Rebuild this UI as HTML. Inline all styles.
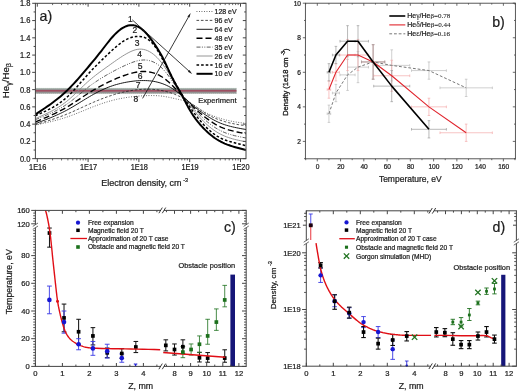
<!DOCTYPE html>
<html lang="en"><head><meta charset="utf-8"><title>Figure</title>
<style>html,body{margin:0;padding:0;background:#fff;}svg{display:block;}text{font-family:"Liberation Sans", Arial, sans-serif;stroke:#1c1c1c;stroke-width:0.22px;}</style>
</head><body>
<svg width="520" height="391" viewBox="0 0 520 391">
<rect width="520" height="391" fill="#fff"/>
<defs><filter id="soft" x="0" y="0" width="520" height="391" filterUnits="userSpaceOnUse"><feGaussianBlur stdDeviation="0.38"/></filter></defs>
<g filter="url(#soft)">
<g id="panel-a">
<rect x="35.4" y="88.4" width="201.1" height="5.0" fill="#949494"/>
<line x1="35.4" y1="88.4" x2="236.5" y2="88.4" stroke="#8fae9c" stroke-width="0.8" stroke-dasharray="1 1"/>
<line x1="35.4" y1="93.4" x2="236.5" y2="93.4" stroke="#7d8a82" stroke-width="0.8" stroke-dasharray="1 1"/>
<line x1="35.4" y1="90.9" x2="236.5" y2="90.9" stroke="#a23a52" stroke-width="1.1" />
<clipPath id="clipA"><rect x="35.4" y="3.3" width="210.6" height="155.35"/></clipPath>
<g clip-path="url(#clipA)">
<polyline points="35.4,125.06 37.33,124.64 39.26,124.23 41.2,123.81 43.13,123.39 45.06,122.96 46.99,122.52 48.92,122.08 50.86,121.62 52.79,121.15 54.72,120.66 56.65,120.15 58.59,119.62 60.52,119.07 62.45,118.5 64.38,117.9 66.31,117.27 68.25,116.62 70.18,115.93 72.11,115.21 74.04,114.47 75.97,113.71 77.91,112.94 79.84,112.16 81.77,111.36 83.7,110.57 85.63,109.77 87.57,108.98 89.5,108.2 91.43,107.44 93.36,106.68 95.3,105.94 97.23,105.22 99.16,104.52 101.09,103.84 103.02,103.18 104.96,102.55 106.89,101.95 108.82,101.38 110.75,100.84 112.68,100.33 114.62,99.85 116.55,99.39 118.48,98.97 120.41,98.58 122.34,98.21 124.28,97.87 126.21,97.56 128.14,97.27 130.07,97 132.01,96.76 133.94,96.54 135.87,96.34 137.8,96.17 139.73,96.02 141.67,95.89 143.6,95.78 145.53,95.69 147.46,95.62 149.39,95.57 151.33,95.55 153.26,95.56 155.19,95.61 157.12,95.7 159.06,95.83 160.99,96.01 162.92,96.25 164.85,96.54 166.78,96.89 168.72,97.27 170.65,97.69 172.58,98.12 174.51,98.55 176.44,98.98 178.38,99.39 180.31,99.81 182.24,100.25 184.17,100.77 186.1,101.38 188.04,102.13 189.97,103.03 191.9,104.07 193.83,105.2 195.77,106.41 197.7,107.65 199.63,108.9 201.56,110.13 203.49,111.29 205.43,112.37 207.36,113.37 209.29,114.29 211.22,115.15 213.15,115.94 215.09,116.67 217.02,117.36 218.95,117.99 220.88,118.59 222.81,119.15 224.75,119.68 226.68,120.16 228.61,120.62 230.54,121.03 232.48,121.42 234.41,121.77 236.34,122.09 238.27,122.38 240.2,122.66 242.14,122.91 244.07,123.16 246,123.4" fill="none" stroke="#333" stroke-width="0.8" stroke-dasharray="0.9 1.6" stroke-linejoin="round"/>
<polyline points="35.4,124.71 37.33,124.12 39.26,123.53 41.2,122.94 43.13,122.35 45.06,121.76 46.99,121.15 48.92,120.54 50.86,119.92 52.79,119.28 54.72,118.64 56.65,117.97 58.59,117.29 60.52,116.59 62.45,115.87 64.38,115.13 66.31,114.37 68.25,113.58 70.18,112.76 72.11,111.92 74.04,111.07 75.97,110.2 77.91,109.31 79.84,108.42 81.77,107.53 83.7,106.64 85.63,105.75 87.57,104.87 89.5,104 91.43,103.14 93.36,102.3 95.3,101.48 97.23,100.67 99.16,99.89 101.09,99.12 103.02,98.38 104.96,97.66 106.89,96.96 108.82,96.29 110.75,95.65 112.68,95.03 114.62,94.45 116.55,93.89 118.48,93.36 120.41,92.85 122.34,92.38 124.28,91.93 126.21,91.52 128.14,91.13 130.07,90.78 132.01,90.45 133.94,90.16 135.87,89.9 137.8,89.68 139.73,89.5 141.67,89.36 143.6,89.25 145.53,89.19 147.46,89.18 149.39,89.21 151.33,89.28 153.26,89.4 155.19,89.57 157.12,89.79 159.06,90.07 160.99,90.39 162.92,90.76 164.85,91.19 166.78,91.67 168.72,92.21 170.65,92.81 172.58,93.47 174.51,94.19 176.44,94.98 178.38,95.83 180.31,96.76 182.24,97.75 184.17,98.82 186.1,99.96 188.04,101.18 189.97,102.48 191.9,103.84 193.83,105.23 195.77,106.65 197.7,108.06 199.63,109.45 201.56,110.79 203.49,112.08 205.43,113.28 207.36,114.41 209.29,115.46 211.22,116.44 213.15,117.35 215.09,118.21 217.02,119 218.95,119.73 220.88,120.42 222.81,121.05 224.75,121.63 226.68,122.17 228.61,122.67 230.54,123.13 232.48,123.55 234.41,123.93 236.34,124.28 238.27,124.6 240.2,124.91 242.14,125.19 244.07,125.46 246,125.73" fill="none" stroke="#222" stroke-width="0.8" stroke-dasharray="2.6 1.8" stroke-linejoin="round"/>
<polyline points="35.4,123.64 37.33,122.91 39.26,122.18 41.2,121.44 43.13,120.7 45.06,119.95 46.99,119.19 48.92,118.41 50.86,117.63 52.79,116.82 54.72,115.99 56.65,115.14 58.59,114.26 60.52,113.36 62.45,112.42 64.38,111.45 66.31,110.45 68.25,109.4 70.18,108.32 72.11,107.2 74.04,106.05 75.97,104.89 77.91,103.7 79.84,102.51 81.77,101.32 83.7,100.13 85.63,98.95 87.57,97.78 89.5,96.64 91.43,95.52 93.36,94.43 95.3,93.38 97.23,92.35 99.16,91.37 101.09,90.42 103.02,89.51 104.96,88.65 106.89,87.83 108.82,87.06 110.75,86.35 112.68,85.68 114.62,85.06 116.55,84.49 118.48,83.96 120.41,83.47 122.34,83.02 124.28,82.61 126.21,82.24 128.14,81.9 130.07,81.6 132.01,81.32 133.94,81.09 135.87,80.89 137.8,80.74 139.73,80.63 141.67,80.56 143.6,80.55 145.53,80.58 147.46,80.67 149.39,80.82 151.33,81.02 153.26,81.3 155.19,81.65 157.12,82.07 159.06,82.57 160.99,83.16 162.92,83.83 164.85,84.6 166.78,85.46 168.72,86.42 170.65,87.49 172.58,88.66 174.51,89.94 176.44,91.34 178.38,92.86 180.31,94.48 182.24,96.16 184.17,97.89 186.1,99.63 188.04,101.36 189.97,103.04 191.9,104.68 193.83,106.27 195.77,107.82 197.7,109.32 199.63,110.77 201.56,112.19 203.49,113.55 205.43,114.88 207.36,116.15 209.29,117.37 211.22,118.53 213.15,119.63 215.09,120.67 217.02,121.63 218.95,122.51 220.88,123.32 222.81,124.05 224.75,124.72 226.68,125.33 228.61,125.89 230.54,126.4 232.48,126.87 234.41,127.3 236.34,127.71 238.27,128.1 240.2,128.47 242.14,128.83 244.07,129.17 246,129.52" fill="none" stroke="#000" stroke-width="0.9" stroke-linejoin="round"/>
<polyline points="35.4,122 37.33,121.18 39.26,120.37 41.2,119.55 43.13,118.72 45.06,117.89 46.99,117.05 48.92,116.19 50.86,115.32 52.79,114.43 54.72,113.51 56.65,112.57 58.59,111.61 60.52,110.61 62.45,109.59 64.38,108.52 66.31,107.42 68.25,106.28 70.18,105.1 72.11,103.88 74.04,102.64 75.97,101.37 77.91,100.09 79.84,98.81 81.77,97.52 83.7,96.25 85.63,94.98 87.57,93.74 89.5,92.53 91.43,91.35 93.36,90.2 95.3,89.08 97.23,87.99 99.16,86.92 101.09,85.88 103.02,84.87 104.96,83.88 106.89,82.92 108.82,81.98 110.75,81.07 112.68,80.17 114.62,79.31 116.55,78.48 118.48,77.67 120.41,76.9 122.34,76.17 124.28,75.47 126.21,74.81 128.14,74.2 130.07,73.63 132.01,73.11 133.94,72.65 135.87,72.26 137.8,71.94 139.73,71.7 141.67,71.54 143.6,71.49 145.53,71.53 147.46,71.68 149.39,71.95 151.33,72.34 153.26,72.85 155.19,73.49 157.12,74.27 159.06,75.2 160.99,76.27 162.92,77.5 164.85,78.88 166.78,80.42 168.72,82.09 170.65,83.86 172.58,85.72 174.51,87.66 176.44,89.64 178.38,91.65 180.31,93.67 182.24,95.7 184.17,97.72 186.1,99.73 188.04,101.71 189.97,103.64 191.9,105.54 193.83,107.39 195.77,109.2 197.7,110.95 199.63,112.66 201.56,114.31 203.49,115.9 205.43,117.44 207.36,118.91 209.29,120.32 211.22,121.65 213.15,122.9 215.09,124.07 217.02,125.16 218.95,126.15 220.88,127.05 222.81,127.86 224.75,128.59 226.68,129.26 228.61,129.86 230.54,130.4 232.48,130.9 234.41,131.36 236.34,131.79 238.27,132.2 240.2,132.58 242.14,132.95 244.07,133.31 246,133.66" fill="none" stroke="#000" stroke-width="1.4" stroke-dasharray="6 3" stroke-linejoin="round"/>
<polyline points="35.4,119.62 37.33,118.85 39.26,118.08 41.2,117.31 43.13,116.52 45.06,115.72 46.99,114.9 48.92,114.06 50.86,113.19 52.79,112.28 54.72,111.34 56.65,110.35 58.59,109.31 60.52,108.22 62.45,107.07 64.38,105.86 66.31,104.58 68.25,103.23 70.18,101.8 72.11,100.32 74.04,98.78 75.97,97.2 77.91,95.61 79.84,94 81.77,92.39 83.7,90.79 85.63,89.22 87.57,87.69 89.5,86.22 91.43,84.79 93.36,83.41 95.3,82.09 97.23,80.8 99.16,79.55 101.09,78.34 103.02,77.16 104.96,76.02 106.89,74.89 108.82,73.79 110.75,72.71 112.68,71.65 114.62,70.61 116.55,69.59 118.48,68.6 120.41,67.64 122.34,66.7 124.28,65.8 126.21,64.92 128.14,64.08 130.07,63.28 132.01,62.52 133.94,61.84 135.87,61.23 137.8,60.73 139.73,60.34 141.67,60.08 143.6,59.96 145.53,60 147.46,60.2 149.39,60.59 151.33,61.16 153.26,61.92 155.19,62.9 157.12,64.08 159.06,65.5 160.99,67.15 162.92,69.04 164.85,71.19 166.78,73.57 168.72,76.12 170.65,78.8 172.58,81.55 174.51,84.34 176.44,87.1 178.38,89.8 180.31,92.41 182.24,94.94 184.17,97.41 186.1,99.81 188.04,102.14 189.97,104.41 191.9,106.63 193.83,108.78 195.77,110.87 197.7,112.88 199.63,114.83 201.56,116.71 203.49,118.51 205.43,120.24 207.36,121.88 209.29,123.44 211.22,124.91 213.15,126.3 215.09,127.59 217.02,128.78 218.95,129.87 220.88,130.86 222.81,131.76 224.75,132.57 226.68,133.3 228.61,133.96 230.54,134.56 232.48,135.1 234.41,135.6 236.34,136.05 238.27,136.48 240.2,136.88 242.14,137.25 244.07,137.62 246,137.97" fill="none" stroke="#333" stroke-width="0.8" stroke-dasharray="4 1.4 1 1.4 1 1.4" stroke-linejoin="round"/>
<polyline points="35.4,118.58 37.33,117.73 39.26,116.88 41.2,116.03 43.13,115.16 45.06,114.28 46.99,113.37 48.92,112.44 50.86,111.46 52.79,110.45 54.72,109.38 56.65,108.27 58.59,107.09 60.52,105.85 62.45,104.53 64.38,103.14 66.31,101.66 68.25,100.09 70.18,98.43 72.11,96.7 74.04,94.9 75.97,93.06 77.91,91.2 79.84,89.31 81.77,87.43 83.7,85.57 85.63,83.75 87.57,81.98 89.5,80.27 91.43,78.63 93.36,77.04 95.3,75.51 97.23,74.02 99.16,72.57 101.09,71.15 103.02,69.75 104.96,68.37 106.89,66.99 108.82,65.61 110.75,64.23 112.68,62.84 114.62,61.47 116.55,60.11 118.48,58.78 120.41,57.49 122.34,56.24 124.28,55.04 126.21,53.91 128.14,52.85 130.07,51.87 132.01,51 133.94,50.26 135.87,49.69 137.8,49.3 139.73,49.12 141.67,49.17 143.6,49.43 145.53,49.92 147.46,50.63 149.39,51.57 151.33,52.74 153.26,54.13 155.19,55.75 157.12,57.59 159.06,59.67 160.99,61.97 162.92,64.51 164.85,67.28 166.78,70.24 168.72,73.35 170.65,76.55 172.58,79.78 174.51,82.99 176.44,86.14 178.38,89.16 180.31,92.05 182.24,94.84 184.17,97.54 186.1,100.17 188.04,102.74 189.97,105.29 191.9,107.79 193.83,110.24 195.77,112.62 197.7,114.93 199.63,117.15 201.56,119.28 203.49,121.29 205.43,123.19 207.36,124.97 209.29,126.64 211.22,128.19 213.15,129.64 215.09,130.97 217.02,132.2 218.95,133.33 220.88,134.35 222.81,135.29 224.75,136.13 226.68,136.9 228.61,137.59 230.54,138.22 232.48,138.79 234.41,139.31 236.34,139.79 238.27,140.23 240.2,140.64 242.14,141.03 244.07,141.4 246,141.77" fill="none" stroke="#8a8a8a" stroke-width="0.9" stroke-linejoin="round"/>
<polyline points="35.4,115.7 37.33,114.84 39.26,113.98 41.2,113.12 43.13,112.24 45.06,111.33 46.99,110.4 48.92,109.43 50.86,108.41 52.79,107.35 54.72,106.22 56.65,105.02 58.59,103.75 60.52,102.4 62.45,100.95 64.38,99.41 66.31,97.77 68.25,96.01 70.18,94.14 72.11,92.16 74.04,90.11 75.97,87.98 77.91,85.81 79.84,83.6 81.77,81.37 83.7,79.15 85.63,76.94 87.57,74.76 89.5,72.62 91.43,70.54 93.36,68.5 95.3,66.51 97.23,64.55 99.16,62.63 101.09,60.74 103.02,58.87 104.96,57.02 106.89,55.19 108.82,53.38 110.75,51.58 112.68,49.8 114.62,48.07 116.55,46.39 118.48,44.8 120.41,43.3 122.34,41.92 124.28,40.66 126.21,39.56 128.14,38.62 130.07,37.86 132.01,37.27 133.94,36.84 135.87,36.56 137.8,36.43 139.73,36.47 141.67,36.71 143.6,37.18 145.53,37.92 147.46,38.96 149.39,40.33 151.33,42.06 153.26,44.19 155.19,46.74 157.12,49.66 159.06,52.87 160.99,56.3 162.92,59.88 164.85,63.51 166.78,67.17 168.72,70.83 170.65,74.48 172.58,78.1 174.51,81.66 176.44,85.17 178.38,88.58 180.31,91.91 182.24,95.15 184.17,98.29 186.1,101.34 188.04,104.3 189.97,107.17 191.9,109.94 193.83,112.61 195.77,115.18 197.7,117.65 199.63,120.01 201.56,122.27 203.49,124.41 205.43,126.44 207.36,128.36 209.29,130.16 211.22,131.83 213.15,133.37 215.09,134.79 217.02,136.07 218.95,137.21 220.88,138.22 222.81,139.1 224.75,139.88 226.68,140.57 228.61,141.18 230.54,141.74 232.48,142.26 234.41,142.76 236.34,143.25 238.27,143.74 240.2,144.22 242.14,144.69 244.07,145.16 246,145.63" fill="none" stroke="#000" stroke-width="1.5" stroke-dasharray="2.6 2" stroke-linejoin="round"/>
<polyline points="35.4,114.36 37.33,113.1 39.26,111.83 41.2,110.56 43.13,109.28 45.06,107.98 46.99,106.66 48.92,105.32 50.86,103.94 52.79,102.52 54.72,101.07 56.65,99.56 58.59,98.01 60.52,96.4 62.45,94.74 64.38,93.01 66.31,91.22 68.25,89.35 70.18,87.42 72.11,85.41 74.04,83.35 75.97,81.23 77.91,79.07 79.84,76.87 81.77,74.63 83.7,72.37 85.63,70.1 87.57,67.81 89.5,65.51 91.43,63.2 93.36,60.88 95.3,58.53 97.23,56.15 99.16,53.73 101.09,51.26 103.02,48.75 104.96,46.24 106.89,43.76 108.82,41.32 110.75,38.97 112.68,36.74 114.62,34.64 116.55,32.72 118.48,30.98 120.41,29.45 122.34,28.13 124.28,27.04 126.21,26.18 128.14,25.57 130.07,25.23 132.01,25.15 133.94,25.36 135.87,25.84 137.8,26.61 139.73,27.66 141.67,29 143.6,30.61 145.53,32.49 147.46,34.65 149.39,37.04 151.33,39.62 153.26,42.35 155.19,45.17 157.12,48.1 159.06,51.2 160.99,54.52 162.92,58.09 164.85,61.98 166.78,66.11 168.72,70.34 170.65,74.54 172.58,78.58 174.51,82.31 176.44,85.73 178.38,88.99 180.31,92.25 182.24,95.69 184.17,99.38 186.1,103.19 188.04,106.89 189.97,110.34 191.9,113.52 193.83,116.44 195.77,119.15 197.7,121.65 199.63,123.98 201.56,126.15 203.49,128.2 205.43,130.14 207.36,131.97 209.29,133.69 211.22,135.31 213.15,136.82 215.09,138.21 217.02,139.5 218.95,140.67 220.88,141.73 222.81,142.69 224.75,143.56 226.68,144.35 228.61,145.07 230.54,145.73 232.48,146.34 234.41,146.92 236.34,147.46 238.27,147.99 240.2,148.5 242.14,148.99 244.07,149.47 246,149.95" fill="none" stroke="#000" stroke-width="2.0" stroke-linejoin="round"/>
</g>
<rect x="35.4" y="3.3" width="210.6" height="155.35" fill="none" stroke="#454545" stroke-width="1"/>
<line x1="32.2" y1="158.65" x2="35.4" y2="158.65" stroke="#454545" stroke-width="1" />
<line x1="246" y1="158.65" x2="246" y2="158.65" stroke="#454545" stroke-width="1" />
<line x1="242.8" y1="158.65" x2="246" y2="158.65" stroke="#454545" stroke-width="1" />
<text transform="translate(30.4,161.55) scale(0.92,1)" font-size="8.2" text-anchor="end" fill="#1c1c1c" >0.0</text>
<line x1="33.6" y1="150.02" x2="35.4" y2="150.02" stroke="#454545" stroke-width="1" />
<line x1="244.2" y1="150.02" x2="246" y2="150.02" stroke="#454545" stroke-width="1" />
<line x1="32.2" y1="141.39" x2="35.4" y2="141.39" stroke="#454545" stroke-width="1" />
<line x1="246" y1="141.39" x2="246" y2="141.39" stroke="#454545" stroke-width="1" />
<line x1="242.8" y1="141.39" x2="246" y2="141.39" stroke="#454545" stroke-width="1" />
<text transform="translate(30.4,144.29) scale(0.92,1)" font-size="8.2" text-anchor="end" fill="#1c1c1c" >0.2</text>
<line x1="33.6" y1="132.76" x2="35.4" y2="132.76" stroke="#454545" stroke-width="1" />
<line x1="244.2" y1="132.76" x2="246" y2="132.76" stroke="#454545" stroke-width="1" />
<line x1="32.2" y1="124.13" x2="35.4" y2="124.13" stroke="#454545" stroke-width="1" />
<line x1="246" y1="124.13" x2="246" y2="124.13" stroke="#454545" stroke-width="1" />
<line x1="242.8" y1="124.13" x2="246" y2="124.13" stroke="#454545" stroke-width="1" />
<text transform="translate(30.4,127.03) scale(0.92,1)" font-size="8.2" text-anchor="end" fill="#1c1c1c" >0.4</text>
<line x1="33.6" y1="115.5" x2="35.4" y2="115.5" stroke="#454545" stroke-width="1" />
<line x1="244.2" y1="115.5" x2="246" y2="115.5" stroke="#454545" stroke-width="1" />
<line x1="32.2" y1="106.87" x2="35.4" y2="106.87" stroke="#454545" stroke-width="1" />
<line x1="246" y1="106.87" x2="246" y2="106.87" stroke="#454545" stroke-width="1" />
<line x1="242.8" y1="106.87" x2="246" y2="106.87" stroke="#454545" stroke-width="1" />
<text transform="translate(30.4,109.77) scale(0.92,1)" font-size="8.2" text-anchor="end" fill="#1c1c1c" >0.6</text>
<line x1="33.6" y1="98.24" x2="35.4" y2="98.24" stroke="#454545" stroke-width="1" />
<line x1="244.2" y1="98.24" x2="246" y2="98.24" stroke="#454545" stroke-width="1" />
<line x1="32.2" y1="89.61" x2="35.4" y2="89.61" stroke="#454545" stroke-width="1" />
<line x1="246" y1="89.61" x2="246" y2="89.61" stroke="#454545" stroke-width="1" />
<line x1="242.8" y1="89.61" x2="246" y2="89.61" stroke="#454545" stroke-width="1" />
<text transform="translate(30.4,92.51) scale(0.92,1)" font-size="8.2" text-anchor="end" fill="#1c1c1c" >0.8</text>
<line x1="33.6" y1="80.98" x2="35.4" y2="80.98" stroke="#454545" stroke-width="1" />
<line x1="244.2" y1="80.98" x2="246" y2="80.98" stroke="#454545" stroke-width="1" />
<line x1="32.2" y1="72.35" x2="35.4" y2="72.35" stroke="#454545" stroke-width="1" />
<line x1="246" y1="72.35" x2="246" y2="72.35" stroke="#454545" stroke-width="1" />
<line x1="242.8" y1="72.35" x2="246" y2="72.35" stroke="#454545" stroke-width="1" />
<text transform="translate(30.4,75.25) scale(0.92,1)" font-size="8.2" text-anchor="end" fill="#1c1c1c" >1.0</text>
<line x1="33.6" y1="63.72" x2="35.4" y2="63.72" stroke="#454545" stroke-width="1" />
<line x1="244.2" y1="63.72" x2="246" y2="63.72" stroke="#454545" stroke-width="1" />
<line x1="32.2" y1="55.09" x2="35.4" y2="55.09" stroke="#454545" stroke-width="1" />
<line x1="246" y1="55.09" x2="246" y2="55.09" stroke="#454545" stroke-width="1" />
<line x1="242.8" y1="55.09" x2="246" y2="55.09" stroke="#454545" stroke-width="1" />
<text transform="translate(30.4,57.99) scale(0.92,1)" font-size="8.2" text-anchor="end" fill="#1c1c1c" >1.2</text>
<line x1="33.6" y1="46.46" x2="35.4" y2="46.46" stroke="#454545" stroke-width="1" />
<line x1="244.2" y1="46.46" x2="246" y2="46.46" stroke="#454545" stroke-width="1" />
<line x1="32.2" y1="37.83" x2="35.4" y2="37.83" stroke="#454545" stroke-width="1" />
<line x1="246" y1="37.83" x2="246" y2="37.83" stroke="#454545" stroke-width="1" />
<line x1="242.8" y1="37.83" x2="246" y2="37.83" stroke="#454545" stroke-width="1" />
<text transform="translate(30.4,40.73) scale(0.92,1)" font-size="8.2" text-anchor="end" fill="#1c1c1c" >1.4</text>
<line x1="33.6" y1="29.2" x2="35.4" y2="29.2" stroke="#454545" stroke-width="1" />
<line x1="244.2" y1="29.2" x2="246" y2="29.2" stroke="#454545" stroke-width="1" />
<line x1="32.2" y1="20.57" x2="35.4" y2="20.57" stroke="#454545" stroke-width="1" />
<line x1="246" y1="20.57" x2="246" y2="20.57" stroke="#454545" stroke-width="1" />
<line x1="242.8" y1="20.57" x2="246" y2="20.57" stroke="#454545" stroke-width="1" />
<text transform="translate(30.4,23.47) scale(0.92,1)" font-size="8.2" text-anchor="end" fill="#1c1c1c" >1.6</text>
<line x1="33.6" y1="11.94" x2="35.4" y2="11.94" stroke="#454545" stroke-width="1" />
<line x1="244.2" y1="11.94" x2="246" y2="11.94" stroke="#454545" stroke-width="1" />
<line x1="32.2" y1="3.31" x2="35.4" y2="3.31" stroke="#454545" stroke-width="1" />
<line x1="246" y1="3.31" x2="246" y2="3.31" stroke="#454545" stroke-width="1" />
<line x1="242.8" y1="3.31" x2="246" y2="3.31" stroke="#454545" stroke-width="1" />
<text transform="translate(30.4,6.21) scale(0.92,1)" font-size="8.2" text-anchor="end" fill="#1c1c1c" >1.8</text>
<line x1="37.3" y1="158.65" x2="37.3" y2="162.05" stroke="#454545" stroke-width="1" />
<line x1="37.3" y1="3.3" x2="37.3" y2="6.7" stroke="#454545" stroke-width="1" />
<text transform="translate(37.7,170.15) scale(0.9,1)" font-size="8.2" text-anchor="middle" fill="#1c1c1c" >1E16</text>
<line x1="52.59" y1="158.65" x2="52.59" y2="160.45" stroke="#454545" stroke-width="0.8" />
<line x1="52.59" y1="3.3" x2="52.59" y2="5.1" stroke="#454545" stroke-width="0.8" />
<line x1="61.54" y1="158.65" x2="61.54" y2="160.45" stroke="#454545" stroke-width="0.8" />
<line x1="61.54" y1="3.3" x2="61.54" y2="5.1" stroke="#454545" stroke-width="0.8" />
<line x1="67.88" y1="158.65" x2="67.88" y2="160.45" stroke="#454545" stroke-width="0.8" />
<line x1="67.88" y1="3.3" x2="67.88" y2="5.1" stroke="#454545" stroke-width="0.8" />
<line x1="72.81" y1="158.65" x2="72.81" y2="160.45" stroke="#454545" stroke-width="0.8" />
<line x1="72.81" y1="3.3" x2="72.81" y2="5.1" stroke="#454545" stroke-width="0.8" />
<line x1="76.83" y1="158.65" x2="76.83" y2="160.45" stroke="#454545" stroke-width="0.8" />
<line x1="76.83" y1="3.3" x2="76.83" y2="5.1" stroke="#454545" stroke-width="0.8" />
<line x1="80.23" y1="158.65" x2="80.23" y2="160.45" stroke="#454545" stroke-width="0.8" />
<line x1="80.23" y1="3.3" x2="80.23" y2="5.1" stroke="#454545" stroke-width="0.8" />
<line x1="83.18" y1="158.65" x2="83.18" y2="160.45" stroke="#454545" stroke-width="0.8" />
<line x1="83.18" y1="3.3" x2="83.18" y2="5.1" stroke="#454545" stroke-width="0.8" />
<line x1="85.78" y1="158.65" x2="85.78" y2="160.45" stroke="#454545" stroke-width="0.8" />
<line x1="85.78" y1="3.3" x2="85.78" y2="5.1" stroke="#454545" stroke-width="0.8" />
<line x1="88.1" y1="158.65" x2="88.1" y2="162.05" stroke="#454545" stroke-width="1" />
<line x1="88.1" y1="3.3" x2="88.1" y2="6.7" stroke="#454545" stroke-width="1" />
<text transform="translate(88.5,170.15) scale(0.9,1)" font-size="8.2" text-anchor="middle" fill="#1c1c1c" >1E17</text>
<line x1="103.39" y1="158.65" x2="103.39" y2="160.45" stroke="#454545" stroke-width="0.8" />
<line x1="103.39" y1="3.3" x2="103.39" y2="5.1" stroke="#454545" stroke-width="0.8" />
<line x1="112.34" y1="158.65" x2="112.34" y2="160.45" stroke="#454545" stroke-width="0.8" />
<line x1="112.34" y1="3.3" x2="112.34" y2="5.1" stroke="#454545" stroke-width="0.8" />
<line x1="118.68" y1="158.65" x2="118.68" y2="160.45" stroke="#454545" stroke-width="0.8" />
<line x1="118.68" y1="3.3" x2="118.68" y2="5.1" stroke="#454545" stroke-width="0.8" />
<line x1="123.61" y1="158.65" x2="123.61" y2="160.45" stroke="#454545" stroke-width="0.8" />
<line x1="123.61" y1="3.3" x2="123.61" y2="5.1" stroke="#454545" stroke-width="0.8" />
<line x1="127.63" y1="158.65" x2="127.63" y2="160.45" stroke="#454545" stroke-width="0.8" />
<line x1="127.63" y1="3.3" x2="127.63" y2="5.1" stroke="#454545" stroke-width="0.8" />
<line x1="131.03" y1="158.65" x2="131.03" y2="160.45" stroke="#454545" stroke-width="0.8" />
<line x1="131.03" y1="3.3" x2="131.03" y2="5.1" stroke="#454545" stroke-width="0.8" />
<line x1="133.98" y1="158.65" x2="133.98" y2="160.45" stroke="#454545" stroke-width="0.8" />
<line x1="133.98" y1="3.3" x2="133.98" y2="5.1" stroke="#454545" stroke-width="0.8" />
<line x1="136.58" y1="158.65" x2="136.58" y2="160.45" stroke="#454545" stroke-width="0.8" />
<line x1="136.58" y1="3.3" x2="136.58" y2="5.1" stroke="#454545" stroke-width="0.8" />
<line x1="138.9" y1="158.65" x2="138.9" y2="162.05" stroke="#454545" stroke-width="1" />
<line x1="138.9" y1="3.3" x2="138.9" y2="6.7" stroke="#454545" stroke-width="1" />
<text transform="translate(139.3,170.15) scale(0.9,1)" font-size="8.2" text-anchor="middle" fill="#1c1c1c" >1E18</text>
<line x1="154.19" y1="158.65" x2="154.19" y2="160.45" stroke="#454545" stroke-width="0.8" />
<line x1="154.19" y1="3.3" x2="154.19" y2="5.1" stroke="#454545" stroke-width="0.8" />
<line x1="163.14" y1="158.65" x2="163.14" y2="160.45" stroke="#454545" stroke-width="0.8" />
<line x1="163.14" y1="3.3" x2="163.14" y2="5.1" stroke="#454545" stroke-width="0.8" />
<line x1="169.48" y1="158.65" x2="169.48" y2="160.45" stroke="#454545" stroke-width="0.8" />
<line x1="169.48" y1="3.3" x2="169.48" y2="5.1" stroke="#454545" stroke-width="0.8" />
<line x1="174.41" y1="158.65" x2="174.41" y2="160.45" stroke="#454545" stroke-width="0.8" />
<line x1="174.41" y1="3.3" x2="174.41" y2="5.1" stroke="#454545" stroke-width="0.8" />
<line x1="178.43" y1="158.65" x2="178.43" y2="160.45" stroke="#454545" stroke-width="0.8" />
<line x1="178.43" y1="3.3" x2="178.43" y2="5.1" stroke="#454545" stroke-width="0.8" />
<line x1="181.83" y1="158.65" x2="181.83" y2="160.45" stroke="#454545" stroke-width="0.8" />
<line x1="181.83" y1="3.3" x2="181.83" y2="5.1" stroke="#454545" stroke-width="0.8" />
<line x1="184.78" y1="158.65" x2="184.78" y2="160.45" stroke="#454545" stroke-width="0.8" />
<line x1="184.78" y1="3.3" x2="184.78" y2="5.1" stroke="#454545" stroke-width="0.8" />
<line x1="187.38" y1="158.65" x2="187.38" y2="160.45" stroke="#454545" stroke-width="0.8" />
<line x1="187.38" y1="3.3" x2="187.38" y2="5.1" stroke="#454545" stroke-width="0.8" />
<line x1="189.7" y1="158.65" x2="189.7" y2="162.05" stroke="#454545" stroke-width="1" />
<line x1="189.7" y1="3.3" x2="189.7" y2="6.7" stroke="#454545" stroke-width="1" />
<text transform="translate(190.1,170.15) scale(0.9,1)" font-size="8.2" text-anchor="middle" fill="#1c1c1c" >1E19</text>
<line x1="204.99" y1="158.65" x2="204.99" y2="160.45" stroke="#454545" stroke-width="0.8" />
<line x1="204.99" y1="3.3" x2="204.99" y2="5.1" stroke="#454545" stroke-width="0.8" />
<line x1="213.94" y1="158.65" x2="213.94" y2="160.45" stroke="#454545" stroke-width="0.8" />
<line x1="213.94" y1="3.3" x2="213.94" y2="5.1" stroke="#454545" stroke-width="0.8" />
<line x1="220.28" y1="158.65" x2="220.28" y2="160.45" stroke="#454545" stroke-width="0.8" />
<line x1="220.28" y1="3.3" x2="220.28" y2="5.1" stroke="#454545" stroke-width="0.8" />
<line x1="225.21" y1="158.65" x2="225.21" y2="160.45" stroke="#454545" stroke-width="0.8" />
<line x1="225.21" y1="3.3" x2="225.21" y2="5.1" stroke="#454545" stroke-width="0.8" />
<line x1="229.23" y1="158.65" x2="229.23" y2="160.45" stroke="#454545" stroke-width="0.8" />
<line x1="229.23" y1="3.3" x2="229.23" y2="5.1" stroke="#454545" stroke-width="0.8" />
<line x1="232.63" y1="158.65" x2="232.63" y2="160.45" stroke="#454545" stroke-width="0.8" />
<line x1="232.63" y1="3.3" x2="232.63" y2="5.1" stroke="#454545" stroke-width="0.8" />
<line x1="235.58" y1="158.65" x2="235.58" y2="160.45" stroke="#454545" stroke-width="0.8" />
<line x1="235.58" y1="3.3" x2="235.58" y2="5.1" stroke="#454545" stroke-width="0.8" />
<line x1="238.18" y1="158.65" x2="238.18" y2="160.45" stroke="#454545" stroke-width="0.8" />
<line x1="238.18" y1="3.3" x2="238.18" y2="5.1" stroke="#454545" stroke-width="0.8" />
<line x1="240.5" y1="158.65" x2="240.5" y2="162.05" stroke="#454545" stroke-width="1" />
<line x1="240.5" y1="3.3" x2="240.5" y2="6.7" stroke="#454545" stroke-width="1" />
<text transform="translate(240.9,170.15) scale(0.9,1)" font-size="8.2" text-anchor="middle" fill="#1c1c1c" >1E20</text>
<text x="39.6" y="20.6" font-size="14.2" text-anchor="start" fill="#1c1c1c" >a)</text>
<text x="141.4" y="186.3" font-size="9.0" text-anchor="middle" fill="#1c1c1c" >Electron density, cm</text>
<text x="183.2" y="182.3" font-size="5.4" text-anchor="start" fill="#1c1c1c" >-3</text>
<text transform="translate(8.8,80.6) rotate(-90)" font-size="9.7" text-anchor="middle" fill="#1c1c1c">He<tspan dy="2.6" font-size="7.2">&#947;</tspan><tspan dy="-2.6">/He</tspan><tspan dy="2.6" font-size="7.2">&#946;</tspan></text>
<text x="236.6" y="102.9" font-size="7.6" text-anchor="end" fill="#1c1c1c" >Experiment</text>
<text x="130.4" y="21.9" font-size="8.5" text-anchor="middle" fill="#1c1c1c" >1</text>
<text x="134.8" y="33" font-size="8.5" text-anchor="middle" fill="#1c1c1c" >2</text>
<text x="137" y="45.6" font-size="8.5" text-anchor="middle" fill="#1c1c1c" >3</text>
<text x="139.6" y="56.7" font-size="8.5" text-anchor="middle" fill="#1c1c1c" >4</text>
<text x="140.2" y="69.3" font-size="8.5" text-anchor="middle" fill="#1c1c1c" >5</text>
<text x="140.2" y="78.8" font-size="8.5" text-anchor="middle" fill="#1c1c1c" >6</text>
<text x="138" y="87.9" font-size="8.5" text-anchor="middle" fill="#1c1c1c" >7</text>
<text x="135.8" y="102" font-size="8.5" text-anchor="middle" fill="#1c1c1c" >8</text>
<line x1="132.3" y1="19.9" x2="189.06" y2="71.15" stroke="#161616" stroke-width="0.85" />
<polygon points="192.1,73.9 187.92,71.67 189.46,69.96" fill="#161616"/>
<line x1="142.6" y1="98.4" x2="188.69" y2="16.57" stroke="#161616" stroke-width="0.85" />
<polygon points="190.7,13 189.44,17.57 187.44,16.44" fill="#161616"/>
<line x1="196.5" y1="11.5" x2="212.6" y2="11.5" stroke="#333" stroke-width="0.8" stroke-dasharray="0.9 1.6"/>
<text x="214.5" y="14.1" font-size="7.0" text-anchor="start" fill="#1c1c1c" >128 eV</text>
<line x1="196.5" y1="20.4" x2="212.6" y2="20.4" stroke="#222" stroke-width="0.8" stroke-dasharray="2.6 1.8"/>
<text x="214.5" y="23" font-size="7.0" text-anchor="start" fill="#1c1c1c" >96 eV</text>
<line x1="196.5" y1="29.3" x2="212.6" y2="29.3" stroke="#000" stroke-width="0.9"/>
<text x="214.5" y="31.9" font-size="7.0" text-anchor="start" fill="#1c1c1c" >64 eV</text>
<line x1="196.5" y1="38.2" x2="212.6" y2="38.2" stroke="#000" stroke-width="1.4" stroke-dasharray="6 3"/>
<text x="214.5" y="40.8" font-size="7.0" text-anchor="start" fill="#1c1c1c" >48 eV</text>
<line x1="196.5" y1="47.1" x2="212.6" y2="47.1" stroke="#333" stroke-width="0.8" stroke-dasharray="4 1.4 1 1.4 1 1.4"/>
<text x="214.5" y="49.7" font-size="7.0" text-anchor="start" fill="#1c1c1c" >35 eV</text>
<line x1="196.5" y1="56" x2="212.6" y2="56" stroke="#8a8a8a" stroke-width="0.9"/>
<text x="214.5" y="58.6" font-size="7.0" text-anchor="start" fill="#1c1c1c" >26 eV</text>
<line x1="196.5" y1="64.9" x2="212.6" y2="64.9" stroke="#000" stroke-width="1.5" stroke-dasharray="2.6 2"/>
<text x="214.5" y="67.5" font-size="7.0" text-anchor="start" fill="#1c1c1c" >16 eV</text>
<line x1="196.5" y1="73.8" x2="212.6" y2="73.8" stroke="#000" stroke-width="2.0"/>
<text x="214.5" y="76.4" font-size="7.0" text-anchor="start" fill="#1c1c1c" >10 eV</text>
</g>
<g id="panel-b">
<line x1="327.19" y1="113.76" x2="330.67" y2="113.76" stroke="#bcbcbc" stroke-width="0.7" />
<line x1="327.19" y1="112.46" x2="327.19" y2="115.06" stroke="#bcbcbc" stroke-width="0.7" />
<line x1="330.67" y1="112.46" x2="330.67" y2="115.06" stroke="#bcbcbc" stroke-width="0.7" />
<line x1="328.93" y1="122.4" x2="328.93" y2="105.12" stroke="#bcbcbc" stroke-width="0.7" />
<line x1="327.63" y1="122.4" x2="330.23" y2="122.4" stroke="#bcbcbc" stroke-width="0.7" />
<line x1="327.63" y1="105.12" x2="330.23" y2="105.12" stroke="#bcbcbc" stroke-width="0.7" />
<line x1="332.42" y1="93.03" x2="339.4" y2="93.03" stroke="#bcbcbc" stroke-width="0.7" />
<line x1="332.42" y1="91.73" x2="332.42" y2="94.33" stroke="#bcbcbc" stroke-width="0.7" />
<line x1="339.4" y1="91.73" x2="339.4" y2="94.33" stroke="#bcbcbc" stroke-width="0.7" />
<line x1="335.91" y1="101.67" x2="335.91" y2="84.39" stroke="#bcbcbc" stroke-width="0.7" />
<line x1="334.61" y1="101.67" x2="337.21" y2="101.67" stroke="#bcbcbc" stroke-width="0.7" />
<line x1="334.61" y1="84.39" x2="337.21" y2="84.39" stroke="#bcbcbc" stroke-width="0.7" />
<line x1="339.98" y1="74.89" x2="355.1" y2="74.89" stroke="#bcbcbc" stroke-width="0.7" />
<line x1="339.98" y1="73.59" x2="339.98" y2="76.19" stroke="#bcbcbc" stroke-width="0.7" />
<line x1="355.1" y1="73.59" x2="355.1" y2="76.19" stroke="#bcbcbc" stroke-width="0.7" />
<line x1="347.54" y1="90.44" x2="347.54" y2="59.34" stroke="#bcbcbc" stroke-width="0.7" />
<line x1="346.24" y1="90.44" x2="348.84" y2="90.44" stroke="#bcbcbc" stroke-width="0.7" />
<line x1="346.24" y1="59.34" x2="348.84" y2="59.34" stroke="#bcbcbc" stroke-width="0.7" />
<line x1="347.54" y1="67.12" x2="368.47" y2="67.12" stroke="#bcbcbc" stroke-width="0.7" />
<line x1="347.54" y1="65.82" x2="347.54" y2="68.42" stroke="#bcbcbc" stroke-width="0.7" />
<line x1="368.47" y1="65.82" x2="368.47" y2="68.42" stroke="#bcbcbc" stroke-width="0.7" />
<line x1="358" y1="82.67" x2="358" y2="51.57" stroke="#bcbcbc" stroke-width="0.7" />
<line x1="356.7" y1="82.67" x2="359.31" y2="82.67" stroke="#bcbcbc" stroke-width="0.7" />
<line x1="356.7" y1="51.57" x2="359.31" y2="51.57" stroke="#bcbcbc" stroke-width="0.7" />
<line x1="361.49" y1="61.94" x2="384.75" y2="61.94" stroke="#bcbcbc" stroke-width="0.7" />
<line x1="361.49" y1="60.64" x2="361.49" y2="63.23" stroke="#bcbcbc" stroke-width="0.7" />
<line x1="384.75" y1="60.64" x2="384.75" y2="63.23" stroke="#bcbcbc" stroke-width="0.7" />
<line x1="373.12" y1="79.21" x2="373.12" y2="44.66" stroke="#bcbcbc" stroke-width="0.7" />
<line x1="371.82" y1="79.21" x2="374.42" y2="79.21" stroke="#bcbcbc" stroke-width="0.7" />
<line x1="371.82" y1="44.66" x2="374.42" y2="44.66" stroke="#bcbcbc" stroke-width="0.7" />
<line x1="373.71" y1="65.39" x2="409.76" y2="65.39" stroke="#bcbcbc" stroke-width="0.7" />
<line x1="373.71" y1="64.09" x2="373.71" y2="66.69" stroke="#bcbcbc" stroke-width="0.7" />
<line x1="409.76" y1="64.09" x2="409.76" y2="66.69" stroke="#bcbcbc" stroke-width="0.7" />
<line x1="391.73" y1="80.94" x2="391.73" y2="49.84" stroke="#bcbcbc" stroke-width="0.7" />
<line x1="390.43" y1="80.94" x2="393.03" y2="80.94" stroke="#bcbcbc" stroke-width="0.7" />
<line x1="390.43" y1="49.84" x2="393.03" y2="49.84" stroke="#bcbcbc" stroke-width="0.7" />
<line x1="411.5" y1="70.57" x2="446.39" y2="70.57" stroke="#bcbcbc" stroke-width="0.7" />
<line x1="411.5" y1="69.27" x2="411.5" y2="71.87" stroke="#bcbcbc" stroke-width="0.7" />
<line x1="446.39" y1="69.27" x2="446.39" y2="71.87" stroke="#bcbcbc" stroke-width="0.7" />
<line x1="428.95" y1="79.21" x2="428.95" y2="61.94" stroke="#bcbcbc" stroke-width="0.7" />
<line x1="427.65" y1="79.21" x2="430.25" y2="79.21" stroke="#bcbcbc" stroke-width="0.7" />
<line x1="427.65" y1="61.94" x2="430.25" y2="61.94" stroke="#bcbcbc" stroke-width="0.7" />
<line x1="440" y1="87.85" x2="492.33" y2="87.85" stroke="#bcbcbc" stroke-width="0.7" />
<line x1="440" y1="86.55" x2="440" y2="89.15" stroke="#bcbcbc" stroke-width="0.7" />
<line x1="492.33" y1="86.55" x2="492.33" y2="89.15" stroke="#bcbcbc" stroke-width="0.7" />
<line x1="466.16" y1="96.48" x2="466.16" y2="79.21" stroke="#bcbcbc" stroke-width="0.7" />
<line x1="464.86" y1="96.48" x2="467.46" y2="96.48" stroke="#bcbcbc" stroke-width="0.7" />
<line x1="464.86" y1="79.21" x2="467.46" y2="79.21" stroke="#bcbcbc" stroke-width="0.7" />
<line x1="327.19" y1="89.57" x2="330.67" y2="89.57" stroke="#f4aaaa" stroke-width="0.7" />
<line x1="327.19" y1="88.27" x2="327.19" y2="90.87" stroke="#f4aaaa" stroke-width="0.7" />
<line x1="330.67" y1="88.27" x2="330.67" y2="90.87" stroke="#f4aaaa" stroke-width="0.7" />
<line x1="328.93" y1="98.21" x2="328.93" y2="80.94" stroke="#f4aaaa" stroke-width="0.7" />
<line x1="327.63" y1="98.21" x2="330.23" y2="98.21" stroke="#f4aaaa" stroke-width="0.7" />
<line x1="327.63" y1="80.94" x2="330.23" y2="80.94" stroke="#f4aaaa" stroke-width="0.7" />
<line x1="332.42" y1="72.3" x2="339.4" y2="72.3" stroke="#f4aaaa" stroke-width="0.7" />
<line x1="332.42" y1="71" x2="332.42" y2="73.6" stroke="#f4aaaa" stroke-width="0.7" />
<line x1="339.4" y1="71" x2="339.4" y2="73.6" stroke="#f4aaaa" stroke-width="0.7" />
<line x1="335.91" y1="80.94" x2="335.91" y2="63.66" stroke="#f4aaaa" stroke-width="0.7" />
<line x1="334.61" y1="80.94" x2="337.21" y2="80.94" stroke="#f4aaaa" stroke-width="0.7" />
<line x1="334.61" y1="63.66" x2="337.21" y2="63.66" stroke="#f4aaaa" stroke-width="0.7" />
<line x1="339.98" y1="55.03" x2="355.1" y2="55.03" stroke="#f4aaaa" stroke-width="0.7" />
<line x1="339.98" y1="53.73" x2="339.98" y2="56.33" stroke="#f4aaaa" stroke-width="0.7" />
<line x1="355.1" y1="53.73" x2="355.1" y2="56.33" stroke="#f4aaaa" stroke-width="0.7" />
<line x1="347.54" y1="70.57" x2="347.54" y2="39.48" stroke="#f4aaaa" stroke-width="0.7" />
<line x1="346.24" y1="70.57" x2="348.84" y2="70.57" stroke="#f4aaaa" stroke-width="0.7" />
<line x1="346.24" y1="39.48" x2="348.84" y2="39.48" stroke="#f4aaaa" stroke-width="0.7" />
<line x1="347.54" y1="55.03" x2="368.47" y2="55.03" stroke="#f4aaaa" stroke-width="0.7" />
<line x1="347.54" y1="53.73" x2="347.54" y2="56.33" stroke="#f4aaaa" stroke-width="0.7" />
<line x1="368.47" y1="53.73" x2="368.47" y2="56.33" stroke="#f4aaaa" stroke-width="0.7" />
<line x1="358" y1="70.57" x2="358" y2="39.48" stroke="#f4aaaa" stroke-width="0.7" />
<line x1="356.7" y1="70.57" x2="359.31" y2="70.57" stroke="#f4aaaa" stroke-width="0.7" />
<line x1="356.7" y1="39.48" x2="359.31" y2="39.48" stroke="#f4aaaa" stroke-width="0.7" />
<line x1="361.49" y1="61.94" x2="384.75" y2="61.94" stroke="#f4aaaa" stroke-width="0.7" />
<line x1="361.49" y1="60.64" x2="361.49" y2="63.23" stroke="#f4aaaa" stroke-width="0.7" />
<line x1="384.75" y1="60.64" x2="384.75" y2="63.23" stroke="#f4aaaa" stroke-width="0.7" />
<line x1="373.12" y1="79.21" x2="373.12" y2="44.66" stroke="#f4aaaa" stroke-width="0.7" />
<line x1="371.82" y1="79.21" x2="374.42" y2="79.21" stroke="#f4aaaa" stroke-width="0.7" />
<line x1="371.82" y1="44.66" x2="374.42" y2="44.66" stroke="#f4aaaa" stroke-width="0.7" />
<line x1="373.71" y1="75.75" x2="409.76" y2="75.75" stroke="#f4aaaa" stroke-width="0.7" />
<line x1="373.71" y1="74.45" x2="373.71" y2="77.05" stroke="#f4aaaa" stroke-width="0.7" />
<line x1="409.76" y1="74.45" x2="409.76" y2="77.05" stroke="#f4aaaa" stroke-width="0.7" />
<line x1="391.73" y1="91.3" x2="391.73" y2="60.21" stroke="#f4aaaa" stroke-width="0.7" />
<line x1="390.43" y1="91.3" x2="393.03" y2="91.3" stroke="#f4aaaa" stroke-width="0.7" />
<line x1="390.43" y1="60.21" x2="393.03" y2="60.21" stroke="#f4aaaa" stroke-width="0.7" />
<line x1="411.5" y1="106.85" x2="446.39" y2="106.85" stroke="#f4aaaa" stroke-width="0.7" />
<line x1="411.5" y1="105.55" x2="411.5" y2="108.15" stroke="#f4aaaa" stroke-width="0.7" />
<line x1="446.39" y1="105.55" x2="446.39" y2="108.15" stroke="#f4aaaa" stroke-width="0.7" />
<line x1="428.95" y1="115.49" x2="428.95" y2="98.21" stroke="#f4aaaa" stroke-width="0.7" />
<line x1="427.65" y1="115.49" x2="430.25" y2="115.49" stroke="#f4aaaa" stroke-width="0.7" />
<line x1="427.65" y1="98.21" x2="430.25" y2="98.21" stroke="#f4aaaa" stroke-width="0.7" />
<line x1="440" y1="132.76" x2="492.33" y2="132.76" stroke="#f4aaaa" stroke-width="0.7" />
<line x1="440" y1="131.46" x2="440" y2="134.06" stroke="#f4aaaa" stroke-width="0.7" />
<line x1="492.33" y1="131.46" x2="492.33" y2="134.06" stroke="#f4aaaa" stroke-width="0.7" />
<line x1="466.16" y1="141.4" x2="466.16" y2="124.12" stroke="#f4aaaa" stroke-width="0.7" />
<line x1="464.86" y1="141.4" x2="467.46" y2="141.4" stroke="#f4aaaa" stroke-width="0.7" />
<line x1="464.86" y1="124.12" x2="467.46" y2="124.12" stroke="#f4aaaa" stroke-width="0.7" />
<line x1="327.19" y1="72.3" x2="330.67" y2="72.3" stroke="#9c9c9c" stroke-width="0.7" />
<line x1="327.19" y1="71" x2="327.19" y2="73.6" stroke="#9c9c9c" stroke-width="0.7" />
<line x1="330.67" y1="71" x2="330.67" y2="73.6" stroke="#9c9c9c" stroke-width="0.7" />
<line x1="328.93" y1="80.94" x2="328.93" y2="63.66" stroke="#9c9c9c" stroke-width="0.7" />
<line x1="327.63" y1="80.94" x2="330.23" y2="80.94" stroke="#9c9c9c" stroke-width="0.7" />
<line x1="327.63" y1="63.66" x2="330.23" y2="63.66" stroke="#9c9c9c" stroke-width="0.7" />
<line x1="332.42" y1="55.03" x2="339.4" y2="55.03" stroke="#9c9c9c" stroke-width="0.7" />
<line x1="332.42" y1="53.73" x2="332.42" y2="56.33" stroke="#9c9c9c" stroke-width="0.7" />
<line x1="339.4" y1="53.73" x2="339.4" y2="56.33" stroke="#9c9c9c" stroke-width="0.7" />
<line x1="335.91" y1="63.66" x2="335.91" y2="46.39" stroke="#9c9c9c" stroke-width="0.7" />
<line x1="334.61" y1="63.66" x2="337.21" y2="63.66" stroke="#9c9c9c" stroke-width="0.7" />
<line x1="334.61" y1="46.39" x2="337.21" y2="46.39" stroke="#9c9c9c" stroke-width="0.7" />
<line x1="339.98" y1="41.21" x2="355.1" y2="41.21" stroke="#9c9c9c" stroke-width="0.7" />
<line x1="339.98" y1="39.91" x2="339.98" y2="42.51" stroke="#9c9c9c" stroke-width="0.7" />
<line x1="355.1" y1="39.91" x2="355.1" y2="42.51" stroke="#9c9c9c" stroke-width="0.7" />
<line x1="347.54" y1="56.75" x2="347.54" y2="25.66" stroke="#9c9c9c" stroke-width="0.7" />
<line x1="346.24" y1="56.75" x2="348.84" y2="56.75" stroke="#9c9c9c" stroke-width="0.7" />
<line x1="346.24" y1="25.66" x2="348.84" y2="25.66" stroke="#9c9c9c" stroke-width="0.7" />
<line x1="347.54" y1="41.21" x2="368.47" y2="41.21" stroke="#9c9c9c" stroke-width="0.7" />
<line x1="347.54" y1="39.91" x2="347.54" y2="42.51" stroke="#9c9c9c" stroke-width="0.7" />
<line x1="368.47" y1="39.91" x2="368.47" y2="42.51" stroke="#9c9c9c" stroke-width="0.7" />
<line x1="358" y1="56.75" x2="358" y2="25.66" stroke="#9c9c9c" stroke-width="0.7" />
<line x1="356.7" y1="56.75" x2="359.31" y2="56.75" stroke="#9c9c9c" stroke-width="0.7" />
<line x1="356.7" y1="25.66" x2="359.31" y2="25.66" stroke="#9c9c9c" stroke-width="0.7" />
<line x1="361.49" y1="61.94" x2="384.75" y2="61.94" stroke="#9c9c9c" stroke-width="0.7" />
<line x1="361.49" y1="60.64" x2="361.49" y2="63.23" stroke="#9c9c9c" stroke-width="0.7" />
<line x1="384.75" y1="60.64" x2="384.75" y2="63.23" stroke="#9c9c9c" stroke-width="0.7" />
<line x1="373.12" y1="79.21" x2="373.12" y2="44.66" stroke="#9c9c9c" stroke-width="0.7" />
<line x1="371.82" y1="79.21" x2="374.42" y2="79.21" stroke="#9c9c9c" stroke-width="0.7" />
<line x1="371.82" y1="44.66" x2="374.42" y2="44.66" stroke="#9c9c9c" stroke-width="0.7" />
<line x1="373.71" y1="86.12" x2="409.76" y2="86.12" stroke="#9c9c9c" stroke-width="0.7" />
<line x1="373.71" y1="84.82" x2="373.71" y2="87.42" stroke="#9c9c9c" stroke-width="0.7" />
<line x1="409.76" y1="84.82" x2="409.76" y2="87.42" stroke="#9c9c9c" stroke-width="0.7" />
<line x1="391.73" y1="101.67" x2="391.73" y2="70.57" stroke="#9c9c9c" stroke-width="0.7" />
<line x1="390.43" y1="101.67" x2="393.03" y2="101.67" stroke="#9c9c9c" stroke-width="0.7" />
<line x1="390.43" y1="70.57" x2="393.03" y2="70.57" stroke="#9c9c9c" stroke-width="0.7" />
<line x1="411.5" y1="129.31" x2="446.39" y2="129.31" stroke="#9c9c9c" stroke-width="0.7" />
<line x1="411.5" y1="128.01" x2="411.5" y2="130.61" stroke="#9c9c9c" stroke-width="0.7" />
<line x1="446.39" y1="128.01" x2="446.39" y2="130.61" stroke="#9c9c9c" stroke-width="0.7" />
<line x1="428.95" y1="137.94" x2="428.95" y2="120.67" stroke="#9c9c9c" stroke-width="0.7" />
<line x1="427.65" y1="137.94" x2="430.25" y2="137.94" stroke="#9c9c9c" stroke-width="0.7" />
<line x1="427.65" y1="120.67" x2="430.25" y2="120.67" stroke="#9c9c9c" stroke-width="0.7" />
<polyline points="328.93,113.76 335.91,93.03 347.54,74.89 358,67.12 373.12,61.94 391.73,65.39 428.95,70.57 466.16,87.85" fill="none" stroke="#777" stroke-width="1.0" stroke-dasharray="2.8 1.9" />
<polyline points="328.93,89.57 335.91,72.3 347.54,55.03 358,55.03 373.12,61.94 391.73,75.75 428.95,106.85 466.16,132.76" fill="none" stroke="#e0242c" stroke-width="1.1" />
<polyline points="328.93,72.3 335.91,55.03 347.54,41.21 358,41.21 373.12,61.94 391.73,86.12 428.95,129.31" fill="none" stroke="#000" stroke-width="1.6" stroke-linejoin="round"/>
<rect x="305.4" y="3.2" width="210" height="155.6" fill="none" stroke="#454545" stroke-width="0.9"/>
<line x1="304" y1="158.67" x2="305.4" y2="158.67" stroke="#454545" stroke-width="0.8" />
<line x1="514" y1="158.67" x2="515.4" y2="158.67" stroke="#454545" stroke-width="0.8" />
<line x1="302.8" y1="141.4" x2="305.4" y2="141.4" stroke="#454545" stroke-width="0.8" />
<line x1="512.8" y1="141.4" x2="515.4" y2="141.4" stroke="#454545" stroke-width="0.8" />
<text x="301" y="143.8" font-size="6.6" text-anchor="end" fill="#1c1c1c" >2</text>
<line x1="304" y1="124.12" x2="305.4" y2="124.12" stroke="#454545" stroke-width="0.8" />
<line x1="514" y1="124.12" x2="515.4" y2="124.12" stroke="#454545" stroke-width="0.8" />
<line x1="302.8" y1="106.85" x2="305.4" y2="106.85" stroke="#454545" stroke-width="0.8" />
<line x1="512.8" y1="106.85" x2="515.4" y2="106.85" stroke="#454545" stroke-width="0.8" />
<text x="301" y="109.25" font-size="6.6" text-anchor="end" fill="#1c1c1c" >4</text>
<line x1="304" y1="89.57" x2="305.4" y2="89.57" stroke="#454545" stroke-width="0.8" />
<line x1="514" y1="89.57" x2="515.4" y2="89.57" stroke="#454545" stroke-width="0.8" />
<line x1="302.8" y1="72.3" x2="305.4" y2="72.3" stroke="#454545" stroke-width="0.8" />
<line x1="512.8" y1="72.3" x2="515.4" y2="72.3" stroke="#454545" stroke-width="0.8" />
<text x="301" y="74.7" font-size="6.6" text-anchor="end" fill="#1c1c1c" >6</text>
<line x1="304" y1="55.03" x2="305.4" y2="55.03" stroke="#454545" stroke-width="0.8" />
<line x1="514" y1="55.03" x2="515.4" y2="55.03" stroke="#454545" stroke-width="0.8" />
<line x1="302.8" y1="37.75" x2="305.4" y2="37.75" stroke="#454545" stroke-width="0.8" />
<line x1="512.8" y1="37.75" x2="515.4" y2="37.75" stroke="#454545" stroke-width="0.8" />
<text x="301" y="40.15" font-size="6.6" text-anchor="end" fill="#1c1c1c" >8</text>
<line x1="304" y1="20.47" x2="305.4" y2="20.47" stroke="#454545" stroke-width="0.8" />
<line x1="514" y1="20.47" x2="515.4" y2="20.47" stroke="#454545" stroke-width="0.8" />
<line x1="302.8" y1="3.2" x2="305.4" y2="3.2" stroke="#454545" stroke-width="0.8" />
<line x1="512.8" y1="3.2" x2="515.4" y2="3.2" stroke="#454545" stroke-width="0.8" />
<text x="301" y="5.6" font-size="6.6" text-anchor="end" fill="#1c1c1c" >10</text>
<line x1="305.67" y1="158.8" x2="305.67" y2="160.2" stroke="#454545" stroke-width="0.8" />
<line x1="305.67" y1="3.2" x2="305.67" y2="4.6" stroke="#454545" stroke-width="0.8" />
<line x1="317.3" y1="158.8" x2="317.3" y2="161.4" stroke="#454545" stroke-width="0.8" />
<line x1="317.3" y1="3.2" x2="317.3" y2="5.8" stroke="#454545" stroke-width="0.8" />
<text x="317.6" y="168.8" font-size="6.6" text-anchor="middle" fill="#1c1c1c" >0</text>
<line x1="328.93" y1="158.8" x2="328.93" y2="160.2" stroke="#454545" stroke-width="0.8" />
<line x1="328.93" y1="3.2" x2="328.93" y2="4.6" stroke="#454545" stroke-width="0.8" />
<line x1="340.56" y1="158.8" x2="340.56" y2="161.4" stroke="#454545" stroke-width="0.8" />
<line x1="340.56" y1="3.2" x2="340.56" y2="5.8" stroke="#454545" stroke-width="0.8" />
<text x="340.86" y="168.8" font-size="6.6" text-anchor="middle" fill="#1c1c1c" >20</text>
<line x1="352.19" y1="158.8" x2="352.19" y2="160.2" stroke="#454545" stroke-width="0.8" />
<line x1="352.19" y1="3.2" x2="352.19" y2="4.6" stroke="#454545" stroke-width="0.8" />
<line x1="363.82" y1="158.8" x2="363.82" y2="161.4" stroke="#454545" stroke-width="0.8" />
<line x1="363.82" y1="3.2" x2="363.82" y2="5.8" stroke="#454545" stroke-width="0.8" />
<text x="364.12" y="168.8" font-size="6.6" text-anchor="middle" fill="#1c1c1c" >40</text>
<line x1="375.45" y1="158.8" x2="375.45" y2="160.2" stroke="#454545" stroke-width="0.8" />
<line x1="375.45" y1="3.2" x2="375.45" y2="4.6" stroke="#454545" stroke-width="0.8" />
<line x1="387.08" y1="158.8" x2="387.08" y2="161.4" stroke="#454545" stroke-width="0.8" />
<line x1="387.08" y1="3.2" x2="387.08" y2="5.8" stroke="#454545" stroke-width="0.8" />
<text x="387.38" y="168.8" font-size="6.6" text-anchor="middle" fill="#1c1c1c" >60</text>
<line x1="398.71" y1="158.8" x2="398.71" y2="160.2" stroke="#454545" stroke-width="0.8" />
<line x1="398.71" y1="3.2" x2="398.71" y2="4.6" stroke="#454545" stroke-width="0.8" />
<line x1="410.34" y1="158.8" x2="410.34" y2="161.4" stroke="#454545" stroke-width="0.8" />
<line x1="410.34" y1="3.2" x2="410.34" y2="5.8" stroke="#454545" stroke-width="0.8" />
<text x="410.64" y="168.8" font-size="6.6" text-anchor="middle" fill="#1c1c1c" >80</text>
<line x1="421.97" y1="158.8" x2="421.97" y2="160.2" stroke="#454545" stroke-width="0.8" />
<line x1="421.97" y1="3.2" x2="421.97" y2="4.6" stroke="#454545" stroke-width="0.8" />
<line x1="433.6" y1="158.8" x2="433.6" y2="161.4" stroke="#454545" stroke-width="0.8" />
<line x1="433.6" y1="3.2" x2="433.6" y2="5.8" stroke="#454545" stroke-width="0.8" />
<text x="433.9" y="168.8" font-size="6.6" text-anchor="middle" fill="#1c1c1c" >100</text>
<line x1="445.23" y1="158.8" x2="445.23" y2="160.2" stroke="#454545" stroke-width="0.8" />
<line x1="445.23" y1="3.2" x2="445.23" y2="4.6" stroke="#454545" stroke-width="0.8" />
<line x1="456.86" y1="158.8" x2="456.86" y2="161.4" stroke="#454545" stroke-width="0.8" />
<line x1="456.86" y1="3.2" x2="456.86" y2="5.8" stroke="#454545" stroke-width="0.8" />
<text x="457.16" y="168.8" font-size="6.6" text-anchor="middle" fill="#1c1c1c" >120</text>
<line x1="468.49" y1="158.8" x2="468.49" y2="160.2" stroke="#454545" stroke-width="0.8" />
<line x1="468.49" y1="3.2" x2="468.49" y2="4.6" stroke="#454545" stroke-width="0.8" />
<line x1="480.12" y1="158.8" x2="480.12" y2="161.4" stroke="#454545" stroke-width="0.8" />
<line x1="480.12" y1="3.2" x2="480.12" y2="5.8" stroke="#454545" stroke-width="0.8" />
<text x="480.42" y="168.8" font-size="6.6" text-anchor="middle" fill="#1c1c1c" >140</text>
<line x1="491.75" y1="158.8" x2="491.75" y2="160.2" stroke="#454545" stroke-width="0.8" />
<line x1="491.75" y1="3.2" x2="491.75" y2="4.6" stroke="#454545" stroke-width="0.8" />
<line x1="503.38" y1="158.8" x2="503.38" y2="161.4" stroke="#454545" stroke-width="0.8" />
<line x1="503.38" y1="3.2" x2="503.38" y2="5.8" stroke="#454545" stroke-width="0.8" />
<text x="503.68" y="168.8" font-size="6.6" text-anchor="middle" fill="#1c1c1c" >160</text>
<line x1="515.01" y1="158.8" x2="515.01" y2="160.2" stroke="#454545" stroke-width="0.8" />
<line x1="515.01" y1="3.2" x2="515.01" y2="4.6" stroke="#454545" stroke-width="0.8" />
<text x="492.2" y="26.6" font-size="14.2" text-anchor="start" fill="#1c1c1c" >b)</text>
<text x="410.3" y="182" font-size="8.5" text-anchor="middle" fill="#1c1c1c" >Temperature, eV</text>
<text transform="translate(287.6,82.2) rotate(-90)" font-size="7.5" text-anchor="middle" fill="#1c1c1c" style="stroke-width:0.32px">Density (1e18 cm <tspan dy="-3" font-size="4.8">-3</tspan><tspan dy="3">)</tspan></text>
<line x1="389.3" y1="16" x2="405.3" y2="16" stroke="#000" stroke-width="1.6"/>
<text x="407.3" y="18.2" font-size="7" fill="#1c1c1c">He<tspan font-family='"Liberation Serif", "Times New Roman", serif' font-size="7.6" style="stroke-width:0.08px">&#947;</tspan>/He<tspan font-family='"Liberation Serif", "Times New Roman", serif' font-size="7" style="stroke-width:0.08px">&#946;=0.78</tspan></text>
<line x1="389.3" y1="24.9" x2="405.3" y2="24.9" stroke="#e0242c" stroke-width="1.1"/>
<text x="407.3" y="27.1" font-size="7" fill="#1c1c1c">He<tspan font-family='"Liberation Serif", "Times New Roman", serif' font-size="7.6" style="stroke-width:0.08px">&#948;</tspan>/He<tspan font-family='"Liberation Serif", "Times New Roman", serif' font-size="7" style="stroke-width:0.08px">&#946;=0.44</tspan></text>
<line x1="389.3" y1="33.8" x2="405.3" y2="33.8" stroke="#777" stroke-width="1.0" stroke-dasharray="2.8 1.9"/>
<text x="407.3" y="36" font-size="7" fill="#1c1c1c">He<tspan font-family='"Liberation Serif", "Times New Roman", serif' font-size="7.6" style="stroke-width:0.08px">&#949;</tspan>/He<tspan font-family='"Liberation Serif", "Times New Roman", serif' font-size="7" style="stroke-width:0.08px">&#946;=0.16</tspan></text>
</g>
<g id="panel-c">
<rect x="230.4" y="274.6" width="4.6" height="91.8" fill="#141478"/>
<line x1="49.49" y1="247.15" x2="49.49" y2="228.04" stroke="#1a1a1a" stroke-width="1.05" />
<line x1="47.19" y1="247.15" x2="51.79" y2="247.15" stroke="#1a1a1a" stroke-width="1.05" />
<line x1="47.19" y1="228.04" x2="51.79" y2="228.04" stroke="#1a1a1a" stroke-width="1.05" />
<line x1="64.02" y1="331.77" x2="64.02" y2="304.07" stroke="#1a1a1a" stroke-width="1.05" />
<line x1="61.72" y1="331.77" x2="66.32" y2="331.77" stroke="#1a1a1a" stroke-width="1.05" />
<line x1="61.72" y1="304.07" x2="66.32" y2="304.07" stroke="#1a1a1a" stroke-width="1.05" />
<line x1="78.6" y1="344.24" x2="78.6" y2="319.31" stroke="#1a1a1a" stroke-width="1.05" />
<line x1="76.3" y1="344.24" x2="80.9" y2="344.24" stroke="#1a1a1a" stroke-width="1.05" />
<line x1="76.3" y1="319.31" x2="80.9" y2="319.31" stroke="#1a1a1a" stroke-width="1.05" />
<line x1="92.91" y1="344.93" x2="92.91" y2="327.62" stroke="#1a1a1a" stroke-width="1.05" />
<line x1="90.61" y1="344.93" x2="95.21" y2="344.93" stroke="#1a1a1a" stroke-width="1.05" />
<line x1="90.61" y1="327.62" x2="95.21" y2="327.62" stroke="#1a1a1a" stroke-width="1.05" />
<line x1="107.22" y1="357.67" x2="107.22" y2="347.98" stroke="#1a1a1a" stroke-width="1.05" />
<line x1="104.92" y1="357.67" x2="109.52" y2="357.67" stroke="#1a1a1a" stroke-width="1.05" />
<line x1="104.92" y1="347.98" x2="109.52" y2="347.98" stroke="#1a1a1a" stroke-width="1.05" />
<line x1="121.8" y1="358.37" x2="121.8" y2="348.67" stroke="#1a1a1a" stroke-width="1.05" />
<line x1="119.5" y1="358.37" x2="124.1" y2="358.37" stroke="#1a1a1a" stroke-width="1.05" />
<line x1="119.5" y1="348.67" x2="124.1" y2="348.67" stroke="#1a1a1a" stroke-width="1.05" />
<line x1="135.84" y1="352.55" x2="135.84" y2="341.47" stroke="#1a1a1a" stroke-width="1.05" />
<line x1="133.54" y1="352.55" x2="138.14" y2="352.55" stroke="#1a1a1a" stroke-width="1.05" />
<line x1="133.54" y1="341.47" x2="138.14" y2="341.47" stroke="#1a1a1a" stroke-width="1.05" />
<line x1="165.81" y1="350.89" x2="165.81" y2="339.81" stroke="#1a1a1a" stroke-width="1.05" />
<line x1="163.51" y1="350.89" x2="168.11" y2="350.89" stroke="#1a1a1a" stroke-width="1.05" />
<line x1="163.51" y1="339.81" x2="168.11" y2="339.81" stroke="#1a1a1a" stroke-width="1.05" />
<line x1="174.5" y1="355.04" x2="174.5" y2="343.96" stroke="#1a1a1a" stroke-width="1.05" />
<line x1="172.2" y1="355.04" x2="176.8" y2="355.04" stroke="#1a1a1a" stroke-width="1.05" />
<line x1="172.2" y1="343.96" x2="176.8" y2="343.96" stroke="#1a1a1a" stroke-width="1.05" />
<line x1="182.87" y1="353.66" x2="182.87" y2="339.81" stroke="#1a1a1a" stroke-width="1.05" />
<line x1="180.57" y1="353.66" x2="185.17" y2="353.66" stroke="#1a1a1a" stroke-width="1.05" />
<line x1="180.57" y1="339.81" x2="185.17" y2="339.81" stroke="#1a1a1a" stroke-width="1.05" />
<line x1="199.46" y1="361.97" x2="199.46" y2="352.27" stroke="#1a1a1a" stroke-width="1.05" />
<line x1="197.16" y1="361.97" x2="201.76" y2="361.97" stroke="#1a1a1a" stroke-width="1.05" />
<line x1="197.16" y1="352.27" x2="201.76" y2="352.27" stroke="#1a1a1a" stroke-width="1.05" />
<line x1="207.67" y1="362.25" x2="207.67" y2="352.55" stroke="#1a1a1a" stroke-width="1.05" />
<line x1="205.37" y1="362.25" x2="209.97" y2="362.25" stroke="#1a1a1a" stroke-width="1.05" />
<line x1="205.37" y1="352.55" x2="209.97" y2="352.55" stroke="#1a1a1a" stroke-width="1.05" />
<line x1="224.73" y1="362.25" x2="224.73" y2="349.78" stroke="#1a1a1a" stroke-width="1.05" />
<line x1="222.43" y1="362.25" x2="227.03" y2="362.25" stroke="#1a1a1a" stroke-width="1.05" />
<line x1="222.43" y1="349.78" x2="227.03" y2="349.78" stroke="#1a1a1a" stroke-width="1.05" />
<line x1="49.39" y1="313.77" x2="49.39" y2="286.07" stroke="#3838e4" stroke-width="0.9" />
<line x1="46.99" y1="313.77" x2="51.79" y2="313.77" stroke="#3838e4" stroke-width="0.9" />
<line x1="46.99" y1="286.07" x2="51.79" y2="286.07" stroke="#3838e4" stroke-width="0.9" />
<line x1="64.02" y1="333.16" x2="64.02" y2="311" stroke="#3838e4" stroke-width="0.9" />
<line x1="61.62" y1="333.16" x2="66.42" y2="333.16" stroke="#3838e4" stroke-width="0.9" />
<line x1="61.62" y1="311" x2="66.42" y2="311" stroke="#3838e4" stroke-width="0.9" />
<line x1="78.6" y1="349.78" x2="78.6" y2="338.7" stroke="#3838e4" stroke-width="0.9" />
<line x1="76.2" y1="349.78" x2="81" y2="349.78" stroke="#3838e4" stroke-width="0.9" />
<line x1="76.2" y1="338.7" x2="81" y2="338.7" stroke="#3838e4" stroke-width="0.9" />
<line x1="92.91" y1="355.32" x2="92.91" y2="341.47" stroke="#3838e4" stroke-width="0.9" />
<line x1="90.51" y1="355.32" x2="95.31" y2="355.32" stroke="#3838e4" stroke-width="0.9" />
<line x1="90.51" y1="341.47" x2="95.31" y2="341.47" stroke="#3838e4" stroke-width="0.9" />
<line x1="107.22" y1="358.09" x2="107.22" y2="344.24" stroke="#3838e4" stroke-width="0.9" />
<line x1="104.82" y1="358.09" x2="109.62" y2="358.09" stroke="#3838e4" stroke-width="0.9" />
<line x1="104.82" y1="344.24" x2="109.62" y2="344.24" stroke="#3838e4" stroke-width="0.9" />
<line x1="121.8" y1="362.25" x2="121.8" y2="353.94" stroke="#3838e4" stroke-width="0.9" />
<line x1="119.4" y1="362.25" x2="124.2" y2="362.25" stroke="#3838e4" stroke-width="0.9" />
<line x1="119.4" y1="353.94" x2="124.2" y2="353.94" stroke="#3838e4" stroke-width="0.9" />
<line x1="182.87" y1="357.67" x2="182.87" y2="346.59" stroke="#1d701d" stroke-width="0.8" />
<line x1="180.57" y1="357.67" x2="185.17" y2="357.67" stroke="#1d701d" stroke-width="0.8" />
<line x1="180.57" y1="346.59" x2="185.17" y2="346.59" stroke="#1d701d" stroke-width="0.8" />
<line x1="191.08" y1="355.04" x2="191.08" y2="343.96" stroke="#1d701d" stroke-width="0.8" />
<line x1="188.78" y1="355.04" x2="193.38" y2="355.04" stroke="#1d701d" stroke-width="0.8" />
<line x1="188.78" y1="343.96" x2="193.38" y2="343.96" stroke="#1d701d" stroke-width="0.8" />
<line x1="199.46" y1="352.55" x2="199.46" y2="335.93" stroke="#1d701d" stroke-width="0.8" />
<line x1="197.16" y1="352.55" x2="201.76" y2="352.55" stroke="#1d701d" stroke-width="0.8" />
<line x1="197.16" y1="335.93" x2="201.76" y2="335.93" stroke="#1d701d" stroke-width="0.8" />
<line x1="207.67" y1="344.24" x2="207.67" y2="319.31" stroke="#1d701d" stroke-width="0.8" />
<line x1="205.37" y1="344.24" x2="209.97" y2="344.24" stroke="#1d701d" stroke-width="0.8" />
<line x1="205.37" y1="319.31" x2="209.97" y2="319.31" stroke="#1d701d" stroke-width="0.8" />
<line x1="216.36" y1="330.39" x2="216.36" y2="308.92" stroke="#1d701d" stroke-width="0.8" />
<line x1="214.06" y1="330.39" x2="218.66" y2="330.39" stroke="#1d701d" stroke-width="0.8" />
<line x1="214.06" y1="308.92" x2="218.66" y2="308.92" stroke="#1d701d" stroke-width="0.8" />
<line x1="224.73" y1="306.84" x2="224.73" y2="285.38" stroke="#1d701d" stroke-width="0.8" />
<line x1="222.43" y1="306.84" x2="227.03" y2="306.84" stroke="#1d701d" stroke-width="0.8" />
<line x1="222.43" y1="285.38" x2="227.03" y2="285.38" stroke="#1d701d" stroke-width="0.8" />
<line x1="133.77" y1="364" x2="137.37" y2="364" stroke="#1414d2" stroke-width="0.8" />
<line x1="135.57" y1="364" x2="135.57" y2="366.4" stroke="#1414d2" stroke-width="0.8" />
<line x1="134.37" y1="364" x2="136.77" y2="366.4" stroke="#1414d2" stroke-width="0.8" />
<line x1="134.37" y1="366.4" x2="136.77" y2="364" stroke="#1414d2" stroke-width="0.8" />
<rect x="47.64" y="231.17" width="3.7" height="3.7" fill="#000"/>
<rect x="62.17" y="316.07" width="3.7" height="3.7" fill="#000"/>
<rect x="76.75" y="329.92" width="3.7" height="3.7" fill="#000"/>
<rect x="91.06" y="334.08" width="3.7" height="3.7" fill="#000"/>
<rect x="105.37" y="350.98" width="3.7" height="3.7" fill="#000"/>
<rect x="119.95" y="351.67" width="3.7" height="3.7" fill="#000"/>
<rect x="133.99" y="345.16" width="3.7" height="3.7" fill="#000"/>
<rect x="163.96" y="343.5" width="3.7" height="3.7" fill="#000"/>
<rect x="172.65" y="347.65" width="3.7" height="3.7" fill="#000"/>
<rect x="181.02" y="344.88" width="3.7" height="3.7" fill="#000"/>
<rect x="197.61" y="355.96" width="3.7" height="3.7" fill="#000"/>
<rect x="205.82" y="356.24" width="3.7" height="3.7" fill="#000"/>
<rect x="222.88" y="356.24" width="3.7" height="3.7" fill="#000"/>
<polyline points="45.5,210.4 46.22,212.77 46.93,215.68 47.65,219.02 48.37,222.68 49.09,226.64 49.8,231.32 50.52,236.81 51.24,243.49 51.96,250.53 52.67,257.77 53.39,264.52 54.11,271.08 54.83,277.77 55.54,284.28 56.26,290.79 56.98,296.98 57.7,302.1 58.41,306.18 59.13,309.7 59.85,312.96 60.57,316.05 61.28,318.93 62,321.6 62.72,324.08 63.43,326.46 64.15,328.66 64.87,330.57 65.59,332.14 66.3,333.56 67.02,334.83 67.74,335.97 68.46,336.98 69.17,337.88 69.89,338.69 70.61,339.43 71.33,340.09 72.04,340.7 72.76,341.25 73.48,341.77 74.2,342.25 74.91,342.7 75.63,343.13 76.35,343.54 77.07,343.92 77.78,344.29 78.5,344.65 79.22,344.98 79.93,345.3 80.65,345.6 81.37,345.88 82.09,346.14 82.8,346.4 83.52,346.64 84.24,346.86 84.96,347.06 85.67,347.21 86.39,347.35 87.11,347.47 87.83,347.59 88.54,347.69 89.26,347.79 89.98,347.87 90.7,347.94 91.41,348 92.13,348.05 92.85,348.1 93.57,348.15 94.28,348.19 95,348.23 96,348.28 101.84,348.48 107.67,348.6 113.51,348.71 119.35,348.82 125.18,348.92 131.02,349.02 136.85,349.14 142.69,349.27 148.53,349.4 154.36,349.55 160.2,349.7" fill="none" stroke="#e00f14" stroke-width="1.4" stroke-linejoin="round"/>
<polyline points="163.23,352.55 225.22,357.26" fill="none" stroke="#e00f14" stroke-width="1.4" />
<circle cx="57.5" cy="301.2" r="1.5" fill="#e00f14"/>
<circle cx="49.39" cy="299.92" r="2.3" fill="#1414d2"/>
<circle cx="64.02" cy="322.08" r="2.3" fill="#1414d2"/>
<circle cx="78.6" cy="344.24" r="2.3" fill="#1414d2"/>
<circle cx="92.91" cy="348.39" r="2.3" fill="#1414d2"/>
<circle cx="107.22" cy="351.16" r="2.3" fill="#1414d2"/>
<circle cx="121.8" cy="358.09" r="2.3" fill="#1414d2"/>
<rect x="181.02" y="350.28" width="3.7" height="3.7" fill="#1d701d"/>
<rect x="189.23" y="347.65" width="3.7" height="3.7" fill="#1d701d"/>
<rect x="197.61" y="342.39" width="3.7" height="3.7" fill="#1d701d"/>
<rect x="205.82" y="334.08" width="3.7" height="3.7" fill="#1d701d"/>
<rect x="214.51" y="320.23" width="3.7" height="3.7" fill="#1d701d"/>
<rect x="222.88" y="298.07" width="3.7" height="3.7" fill="#1d701d"/>
<line x1="35.4" y1="210.4" x2="160.6" y2="210.4" stroke="#454545" stroke-width="1" />
<line x1="164" y1="210.4" x2="246.2" y2="210.4" stroke="#454545" stroke-width="1" />
<line x1="158.9" y1="213.2" x2="162.3" y2="207.6" stroke="#222" stroke-width="0.9" />
<line x1="162.3" y1="213.2" x2="165.7" y2="207.6" stroke="#222" stroke-width="0.9" />
<line x1="35.4" y1="366.4" x2="160.6" y2="366.4" stroke="#454545" stroke-width="1" />
<line x1="164" y1="366.4" x2="246.2" y2="366.4" stroke="#454545" stroke-width="1" />
<line x1="158.9" y1="369.2" x2="162.3" y2="363.6" stroke="#222" stroke-width="0.9" />
<line x1="162.3" y1="369.2" x2="165.7" y2="363.6" stroke="#222" stroke-width="0.9" />
<line x1="35.4" y1="209.9" x2="35.4" y2="224.7" stroke="#454545" stroke-width="1" />
<line x1="35.4" y1="227.7" x2="35.4" y2="366.9" stroke="#454545" stroke-width="1" />
<line x1="32.8" y1="226.4" x2="38" y2="223" stroke="#454545" stroke-width="0.8" />
<line x1="32.8" y1="229.4" x2="38" y2="226" stroke="#454545" stroke-width="0.8" />
<line x1="246.2" y1="209.9" x2="246.2" y2="224.7" stroke="#454545" stroke-width="1" />
<line x1="246.2" y1="227.7" x2="246.2" y2="366.9" stroke="#454545" stroke-width="1" />
<line x1="243.6" y1="226.4" x2="248.8" y2="223" stroke="#454545" stroke-width="0.8" />
<line x1="243.6" y1="229.4" x2="248.8" y2="226" stroke="#454545" stroke-width="0.8" />
<line x1="31.2" y1="366.4" x2="35.4" y2="366.4" stroke="#454545" stroke-width="1" />
<line x1="242" y1="366.4" x2="246.2" y2="366.4" stroke="#454545" stroke-width="1" />
<text x="29.8" y="369.1" font-size="7.6" text-anchor="end" fill="#1c1c1c" >0</text>
<line x1="33.2" y1="363.63" x2="35.4" y2="363.63" stroke="#454545" stroke-width="0.9" />
<line x1="244" y1="363.63" x2="246.2" y2="363.63" stroke="#454545" stroke-width="0.9" />
<line x1="33.2" y1="360.86" x2="35.4" y2="360.86" stroke="#454545" stroke-width="0.9" />
<line x1="244" y1="360.86" x2="246.2" y2="360.86" stroke="#454545" stroke-width="0.9" />
<line x1="33.2" y1="358.09" x2="35.4" y2="358.09" stroke="#454545" stroke-width="0.9" />
<line x1="244" y1="358.09" x2="246.2" y2="358.09" stroke="#454545" stroke-width="0.9" />
<line x1="33.2" y1="355.32" x2="35.4" y2="355.32" stroke="#454545" stroke-width="0.9" />
<line x1="244" y1="355.32" x2="246.2" y2="355.32" stroke="#454545" stroke-width="0.9" />
<line x1="33.2" y1="352.55" x2="35.4" y2="352.55" stroke="#454545" stroke-width="0.9" />
<line x1="244" y1="352.55" x2="246.2" y2="352.55" stroke="#454545" stroke-width="0.9" />
<line x1="33.2" y1="349.78" x2="35.4" y2="349.78" stroke="#454545" stroke-width="0.9" />
<line x1="244" y1="349.78" x2="246.2" y2="349.78" stroke="#454545" stroke-width="0.9" />
<line x1="33.2" y1="347.01" x2="35.4" y2="347.01" stroke="#454545" stroke-width="0.9" />
<line x1="244" y1="347.01" x2="246.2" y2="347.01" stroke="#454545" stroke-width="0.9" />
<line x1="33.2" y1="344.24" x2="35.4" y2="344.24" stroke="#454545" stroke-width="0.9" />
<line x1="244" y1="344.24" x2="246.2" y2="344.24" stroke="#454545" stroke-width="0.9" />
<line x1="33.2" y1="341.47" x2="35.4" y2="341.47" stroke="#454545" stroke-width="0.9" />
<line x1="244" y1="341.47" x2="246.2" y2="341.47" stroke="#454545" stroke-width="0.9" />
<line x1="31.2" y1="338.7" x2="35.4" y2="338.7" stroke="#454545" stroke-width="1" />
<line x1="242" y1="338.7" x2="246.2" y2="338.7" stroke="#454545" stroke-width="1" />
<text x="29.8" y="341.4" font-size="7.6" text-anchor="end" fill="#1c1c1c" >20</text>
<line x1="33.2" y1="335.93" x2="35.4" y2="335.93" stroke="#454545" stroke-width="0.9" />
<line x1="244" y1="335.93" x2="246.2" y2="335.93" stroke="#454545" stroke-width="0.9" />
<line x1="33.2" y1="333.16" x2="35.4" y2="333.16" stroke="#454545" stroke-width="0.9" />
<line x1="244" y1="333.16" x2="246.2" y2="333.16" stroke="#454545" stroke-width="0.9" />
<line x1="33.2" y1="330.39" x2="35.4" y2="330.39" stroke="#454545" stroke-width="0.9" />
<line x1="244" y1="330.39" x2="246.2" y2="330.39" stroke="#454545" stroke-width="0.9" />
<line x1="33.2" y1="327.62" x2="35.4" y2="327.62" stroke="#454545" stroke-width="0.9" />
<line x1="244" y1="327.62" x2="246.2" y2="327.62" stroke="#454545" stroke-width="0.9" />
<line x1="33.2" y1="324.85" x2="35.4" y2="324.85" stroke="#454545" stroke-width="0.9" />
<line x1="244" y1="324.85" x2="246.2" y2="324.85" stroke="#454545" stroke-width="0.9" />
<line x1="33.2" y1="322.08" x2="35.4" y2="322.08" stroke="#454545" stroke-width="0.9" />
<line x1="244" y1="322.08" x2="246.2" y2="322.08" stroke="#454545" stroke-width="0.9" />
<line x1="33.2" y1="319.31" x2="35.4" y2="319.31" stroke="#454545" stroke-width="0.9" />
<line x1="244" y1="319.31" x2="246.2" y2="319.31" stroke="#454545" stroke-width="0.9" />
<line x1="33.2" y1="316.54" x2="35.4" y2="316.54" stroke="#454545" stroke-width="0.9" />
<line x1="244" y1="316.54" x2="246.2" y2="316.54" stroke="#454545" stroke-width="0.9" />
<line x1="33.2" y1="313.77" x2="35.4" y2="313.77" stroke="#454545" stroke-width="0.9" />
<line x1="244" y1="313.77" x2="246.2" y2="313.77" stroke="#454545" stroke-width="0.9" />
<line x1="31.2" y1="311" x2="35.4" y2="311" stroke="#454545" stroke-width="1" />
<line x1="242" y1="311" x2="246.2" y2="311" stroke="#454545" stroke-width="1" />
<text x="29.8" y="313.7" font-size="7.6" text-anchor="end" fill="#1c1c1c" >40</text>
<line x1="33.2" y1="308.23" x2="35.4" y2="308.23" stroke="#454545" stroke-width="0.9" />
<line x1="244" y1="308.23" x2="246.2" y2="308.23" stroke="#454545" stroke-width="0.9" />
<line x1="33.2" y1="305.46" x2="35.4" y2="305.46" stroke="#454545" stroke-width="0.9" />
<line x1="244" y1="305.46" x2="246.2" y2="305.46" stroke="#454545" stroke-width="0.9" />
<line x1="33.2" y1="302.69" x2="35.4" y2="302.69" stroke="#454545" stroke-width="0.9" />
<line x1="244" y1="302.69" x2="246.2" y2="302.69" stroke="#454545" stroke-width="0.9" />
<line x1="33.2" y1="299.92" x2="35.4" y2="299.92" stroke="#454545" stroke-width="0.9" />
<line x1="244" y1="299.92" x2="246.2" y2="299.92" stroke="#454545" stroke-width="0.9" />
<line x1="33.2" y1="297.15" x2="35.4" y2="297.15" stroke="#454545" stroke-width="0.9" />
<line x1="244" y1="297.15" x2="246.2" y2="297.15" stroke="#454545" stroke-width="0.9" />
<line x1="33.2" y1="294.38" x2="35.4" y2="294.38" stroke="#454545" stroke-width="0.9" />
<line x1="244" y1="294.38" x2="246.2" y2="294.38" stroke="#454545" stroke-width="0.9" />
<line x1="33.2" y1="291.61" x2="35.4" y2="291.61" stroke="#454545" stroke-width="0.9" />
<line x1="244" y1="291.61" x2="246.2" y2="291.61" stroke="#454545" stroke-width="0.9" />
<line x1="33.2" y1="288.84" x2="35.4" y2="288.84" stroke="#454545" stroke-width="0.9" />
<line x1="244" y1="288.84" x2="246.2" y2="288.84" stroke="#454545" stroke-width="0.9" />
<line x1="33.2" y1="286.07" x2="35.4" y2="286.07" stroke="#454545" stroke-width="0.9" />
<line x1="244" y1="286.07" x2="246.2" y2="286.07" stroke="#454545" stroke-width="0.9" />
<line x1="31.2" y1="283.3" x2="35.4" y2="283.3" stroke="#454545" stroke-width="1" />
<line x1="242" y1="283.3" x2="246.2" y2="283.3" stroke="#454545" stroke-width="1" />
<text x="29.8" y="286" font-size="7.6" text-anchor="end" fill="#1c1c1c" >60</text>
<line x1="33.2" y1="280.53" x2="35.4" y2="280.53" stroke="#454545" stroke-width="0.9" />
<line x1="244" y1="280.53" x2="246.2" y2="280.53" stroke="#454545" stroke-width="0.9" />
<line x1="33.2" y1="277.76" x2="35.4" y2="277.76" stroke="#454545" stroke-width="0.9" />
<line x1="244" y1="277.76" x2="246.2" y2="277.76" stroke="#454545" stroke-width="0.9" />
<line x1="33.2" y1="274.99" x2="35.4" y2="274.99" stroke="#454545" stroke-width="0.9" />
<line x1="244" y1="274.99" x2="246.2" y2="274.99" stroke="#454545" stroke-width="0.9" />
<line x1="33.2" y1="272.22" x2="35.4" y2="272.22" stroke="#454545" stroke-width="0.9" />
<line x1="244" y1="272.22" x2="246.2" y2="272.22" stroke="#454545" stroke-width="0.9" />
<line x1="33.2" y1="269.45" x2="35.4" y2="269.45" stroke="#454545" stroke-width="0.9" />
<line x1="244" y1="269.45" x2="246.2" y2="269.45" stroke="#454545" stroke-width="0.9" />
<line x1="33.2" y1="266.68" x2="35.4" y2="266.68" stroke="#454545" stroke-width="0.9" />
<line x1="244" y1="266.68" x2="246.2" y2="266.68" stroke="#454545" stroke-width="0.9" />
<line x1="33.2" y1="263.91" x2="35.4" y2="263.91" stroke="#454545" stroke-width="0.9" />
<line x1="244" y1="263.91" x2="246.2" y2="263.91" stroke="#454545" stroke-width="0.9" />
<line x1="33.2" y1="261.14" x2="35.4" y2="261.14" stroke="#454545" stroke-width="0.9" />
<line x1="244" y1="261.14" x2="246.2" y2="261.14" stroke="#454545" stroke-width="0.9" />
<line x1="33.2" y1="258.37" x2="35.4" y2="258.37" stroke="#454545" stroke-width="0.9" />
<line x1="244" y1="258.37" x2="246.2" y2="258.37" stroke="#454545" stroke-width="0.9" />
<line x1="31.2" y1="255.6" x2="35.4" y2="255.6" stroke="#454545" stroke-width="1" />
<line x1="242" y1="255.6" x2="246.2" y2="255.6" stroke="#454545" stroke-width="1" />
<text x="29.8" y="258.3" font-size="7.6" text-anchor="end" fill="#1c1c1c" >80</text>
<line x1="33.2" y1="252.83" x2="35.4" y2="252.83" stroke="#454545" stroke-width="0.9" />
<line x1="244" y1="252.83" x2="246.2" y2="252.83" stroke="#454545" stroke-width="0.9" />
<line x1="33.2" y1="250.06" x2="35.4" y2="250.06" stroke="#454545" stroke-width="0.9" />
<line x1="244" y1="250.06" x2="246.2" y2="250.06" stroke="#454545" stroke-width="0.9" />
<line x1="33.2" y1="247.29" x2="35.4" y2="247.29" stroke="#454545" stroke-width="0.9" />
<line x1="244" y1="247.29" x2="246.2" y2="247.29" stroke="#454545" stroke-width="0.9" />
<line x1="33.2" y1="244.52" x2="35.4" y2="244.52" stroke="#454545" stroke-width="0.9" />
<line x1="244" y1="244.52" x2="246.2" y2="244.52" stroke="#454545" stroke-width="0.9" />
<line x1="33.2" y1="241.75" x2="35.4" y2="241.75" stroke="#454545" stroke-width="0.9" />
<line x1="244" y1="241.75" x2="246.2" y2="241.75" stroke="#454545" stroke-width="0.9" />
<line x1="33.2" y1="238.98" x2="35.4" y2="238.98" stroke="#454545" stroke-width="0.9" />
<line x1="244" y1="238.98" x2="246.2" y2="238.98" stroke="#454545" stroke-width="0.9" />
<line x1="33.2" y1="236.21" x2="35.4" y2="236.21" stroke="#454545" stroke-width="0.9" />
<line x1="244" y1="236.21" x2="246.2" y2="236.21" stroke="#454545" stroke-width="0.9" />
<line x1="33.2" y1="233.44" x2="35.4" y2="233.44" stroke="#454545" stroke-width="0.9" />
<line x1="244" y1="233.44" x2="246.2" y2="233.44" stroke="#454545" stroke-width="0.9" />
<line x1="33.2" y1="230.67" x2="35.4" y2="230.67" stroke="#454545" stroke-width="0.9" />
<line x1="244" y1="230.67" x2="246.2" y2="230.67" stroke="#454545" stroke-width="0.9" />
<line x1="31.2" y1="223.8" x2="35.4" y2="223.8" stroke="#454545" stroke-width="1" />
<line x1="242" y1="223.8" x2="246.2" y2="223.8" stroke="#454545" stroke-width="1" />
<text x="29.8" y="226.5" font-size="7.6" text-anchor="end" fill="#1c1c1c" >120</text>
<line x1="33.2" y1="221.12" x2="35.4" y2="221.12" stroke="#454545" stroke-width="0.9" />
<line x1="244" y1="221.12" x2="246.2" y2="221.12" stroke="#454545" stroke-width="0.9" />
<line x1="33.2" y1="218.44" x2="35.4" y2="218.44" stroke="#454545" stroke-width="0.9" />
<line x1="244" y1="218.44" x2="246.2" y2="218.44" stroke="#454545" stroke-width="0.9" />
<line x1="33.2" y1="215.76" x2="35.4" y2="215.76" stroke="#454545" stroke-width="0.9" />
<line x1="244" y1="215.76" x2="246.2" y2="215.76" stroke="#454545" stroke-width="0.9" />
<line x1="33.2" y1="213.08" x2="35.4" y2="213.08" stroke="#454545" stroke-width="0.9" />
<line x1="244" y1="213.08" x2="246.2" y2="213.08" stroke="#454545" stroke-width="0.9" />
<line x1="31.2" y1="210.4" x2="35.4" y2="210.4" stroke="#454545" stroke-width="1" />
<line x1="242" y1="210.4" x2="246.2" y2="210.4" stroke="#454545" stroke-width="1" />
<text x="29.8" y="213.1" font-size="7.6" text-anchor="end" fill="#1c1c1c" >160</text>
<line x1="35.4" y1="366.4" x2="35.4" y2="366.4" stroke="#454545" stroke-width="1" />
<line x1="35.4" y1="363" x2="35.4" y2="366.4" stroke="#454545" stroke-width="1" />
<line x1="35.4" y1="210.4" x2="35.4" y2="213.8" stroke="#454545" stroke-width="1" />
<text x="35.4" y="376.2" font-size="7.6" text-anchor="middle" fill="#1c1c1c" >0</text>
<line x1="48.9" y1="364.6" x2="48.9" y2="366.4" stroke="#454545" stroke-width="1" />
<line x1="48.9" y1="210.4" x2="48.9" y2="212.2" stroke="#454545" stroke-width="1" />
<line x1="62.4" y1="366.4" x2="62.4" y2="366.4" stroke="#454545" stroke-width="1" />
<line x1="62.4" y1="363" x2="62.4" y2="366.4" stroke="#454545" stroke-width="1" />
<line x1="62.4" y1="210.4" x2="62.4" y2="213.8" stroke="#454545" stroke-width="1" />
<text x="62.4" y="376.2" font-size="7.6" text-anchor="middle" fill="#1c1c1c" >1</text>
<line x1="75.9" y1="364.6" x2="75.9" y2="366.4" stroke="#454545" stroke-width="1" />
<line x1="75.9" y1="210.4" x2="75.9" y2="212.2" stroke="#454545" stroke-width="1" />
<line x1="89.4" y1="366.4" x2="89.4" y2="366.4" stroke="#454545" stroke-width="1" />
<line x1="89.4" y1="363" x2="89.4" y2="366.4" stroke="#454545" stroke-width="1" />
<line x1="89.4" y1="210.4" x2="89.4" y2="213.8" stroke="#454545" stroke-width="1" />
<text x="89.4" y="376.2" font-size="7.6" text-anchor="middle" fill="#1c1c1c" >2</text>
<line x1="102.9" y1="364.6" x2="102.9" y2="366.4" stroke="#454545" stroke-width="1" />
<line x1="102.9" y1="210.4" x2="102.9" y2="212.2" stroke="#454545" stroke-width="1" />
<line x1="116.4" y1="366.4" x2="116.4" y2="366.4" stroke="#454545" stroke-width="1" />
<line x1="116.4" y1="363" x2="116.4" y2="366.4" stroke="#454545" stroke-width="1" />
<line x1="116.4" y1="210.4" x2="116.4" y2="213.8" stroke="#454545" stroke-width="1" />
<text x="116.4" y="376.2" font-size="7.6" text-anchor="middle" fill="#1c1c1c" >3</text>
<line x1="129.9" y1="364.6" x2="129.9" y2="366.4" stroke="#454545" stroke-width="1" />
<line x1="129.9" y1="210.4" x2="129.9" y2="212.2" stroke="#454545" stroke-width="1" />
<line x1="143.4" y1="366.4" x2="143.4" y2="366.4" stroke="#454545" stroke-width="1" />
<line x1="143.4" y1="363" x2="143.4" y2="366.4" stroke="#454545" stroke-width="1" />
<line x1="143.4" y1="210.4" x2="143.4" y2="213.8" stroke="#454545" stroke-width="1" />
<text x="143.4" y="376.2" font-size="7.6" text-anchor="middle" fill="#1c1c1c" >4</text>
<line x1="156.9" y1="364.6" x2="156.9" y2="366.4" stroke="#454545" stroke-width="1" />
<line x1="156.9" y1="210.4" x2="156.9" y2="212.2" stroke="#454545" stroke-width="1" />
<line x1="166.45" y1="364.6" x2="166.45" y2="366.4" stroke="#454545" stroke-width="1" />
<line x1="166.45" y1="210.4" x2="166.45" y2="212.2" stroke="#454545" stroke-width="1" />
<line x1="174.5" y1="363" x2="174.5" y2="366.4" stroke="#454545" stroke-width="1" />
<line x1="174.5" y1="210.4" x2="174.5" y2="213.8" stroke="#454545" stroke-width="1" />
<text x="174.5" y="376.2" font-size="7.6" text-anchor="middle" fill="#1c1c1c" >8</text>
<line x1="182.55" y1="364.6" x2="182.55" y2="366.4" stroke="#454545" stroke-width="1" />
<line x1="182.55" y1="210.4" x2="182.55" y2="212.2" stroke="#454545" stroke-width="1" />
<line x1="190.6" y1="363" x2="190.6" y2="366.4" stroke="#454545" stroke-width="1" />
<line x1="190.6" y1="210.4" x2="190.6" y2="213.8" stroke="#454545" stroke-width="1" />
<text x="190.6" y="376.2" font-size="7.6" text-anchor="middle" fill="#1c1c1c" >9</text>
<line x1="198.65" y1="364.6" x2="198.65" y2="366.4" stroke="#454545" stroke-width="1" />
<line x1="198.65" y1="210.4" x2="198.65" y2="212.2" stroke="#454545" stroke-width="1" />
<line x1="206.7" y1="363" x2="206.7" y2="366.4" stroke="#454545" stroke-width="1" />
<line x1="206.7" y1="210.4" x2="206.7" y2="213.8" stroke="#454545" stroke-width="1" />
<text x="206.7" y="376.2" font-size="7.6" text-anchor="middle" fill="#1c1c1c" >10</text>
<line x1="214.75" y1="364.6" x2="214.75" y2="366.4" stroke="#454545" stroke-width="1" />
<line x1="214.75" y1="210.4" x2="214.75" y2="212.2" stroke="#454545" stroke-width="1" />
<line x1="222.8" y1="363" x2="222.8" y2="366.4" stroke="#454545" stroke-width="1" />
<line x1="222.8" y1="210.4" x2="222.8" y2="213.8" stroke="#454545" stroke-width="1" />
<text x="222.8" y="376.2" font-size="7.6" text-anchor="middle" fill="#1c1c1c" >11</text>
<line x1="230.85" y1="364.6" x2="230.85" y2="366.4" stroke="#454545" stroke-width="1" />
<line x1="230.85" y1="210.4" x2="230.85" y2="212.2" stroke="#454545" stroke-width="1" />
<line x1="238.9" y1="363" x2="238.9" y2="366.4" stroke="#454545" stroke-width="1" />
<line x1="238.9" y1="210.4" x2="238.9" y2="213.8" stroke="#454545" stroke-width="1" />
<text x="238.9" y="376.2" font-size="7.6" text-anchor="middle" fill="#1c1c1c" >12</text>
<text x="224" y="232.3" font-size="14.2" text-anchor="start" fill="#1c1c1c" >c)</text>
<text x="140.6" y="389.4" font-size="8.8" text-anchor="middle" fill="#1c1c1c" >Z, mm</text>
<text transform="translate(12.3,281.7) rotate(-90)" font-size="8.8" text-anchor="middle" fill="#1c1c1c">Temperature, eV</text>
<text x="178.5" y="268.3" font-size="7.4" text-anchor="start" fill="#1c1c1c" >Obstacle position</text>
<circle cx="78" cy="222.7" r="2.1" fill="#1414d2"/>
<text x="87.9" y="225" font-size="6.65" text-anchor="start" fill="#1c1c1c" >Free expansion</text>
<rect x="76.25" y="228.55" width="3.5" height="3.5" fill="#000"/>
<text x="87.9" y="232.7" font-size="6.65" text-anchor="start" fill="#1c1c1c" >Magnetic field 20 T</text>
<line x1="70.4" y1="238.5" x2="87" y2="238.5" stroke="#e00f14" stroke-width="1.3" />
<text x="87.9" y="240.9" font-size="6.65" text-anchor="start" fill="#1c1c1c" >Approximation of 20 T case</text>
<rect x="76.2" y="245.2" width="3.6" height="3.6" fill="#1d701d"/>
<text x="87.9" y="249.4" font-size="6.65" text-anchor="start" fill="#1c1c1c" >Obstacle and magnetic field 20 T</text>
</g>
<g id="panel-d">
<rect x="501.2" y="274.8" width="4.2" height="91.4" fill="#141478"/>
<line x1="310.75" y1="214" x2="310.75" y2="225.3" stroke="#3c3ce6" stroke-width="0.9" />
<line x1="308.75" y1="214" x2="312.75" y2="214" stroke="#3c3ce6" stroke-width="0.9" />
<line x1="308.75" y1="225.3" x2="312.75" y2="225.3" stroke="#3c3ce6" stroke-width="0.9" />
<line x1="310.75" y1="225.3" x2="310.75" y2="240" stroke="#e8343c" stroke-width="1.0" />
<line x1="320.61" y1="282.45" x2="320.61" y2="267.97" stroke="#3838e4" stroke-width="0.9" />
<line x1="318.31" y1="282.45" x2="322.91" y2="282.45" stroke="#3838e4" stroke-width="0.9" />
<line x1="318.31" y1="267.97" x2="322.91" y2="267.97" stroke="#3838e4" stroke-width="0.9" />
<line x1="334.65" y1="306.71" x2="334.65" y2="294.75" stroke="#3838e4" stroke-width="0.9" />
<line x1="332.35" y1="306.71" x2="336.95" y2="306.71" stroke="#3838e4" stroke-width="0.9" />
<line x1="332.35" y1="294.75" x2="336.95" y2="294.75" stroke="#3838e4" stroke-width="0.9" />
<line x1="349.23" y1="318.1" x2="349.23" y2="307.72" stroke="#3838e4" stroke-width="0.9" />
<line x1="346.93" y1="318.1" x2="351.53" y2="318.1" stroke="#3838e4" stroke-width="0.9" />
<line x1="346.93" y1="307.72" x2="351.53" y2="307.72" stroke="#3838e4" stroke-width="0.9" />
<line x1="363.54" y1="327.57" x2="363.54" y2="316.58" stroke="#3838e4" stroke-width="0.9" />
<line x1="361.24" y1="327.57" x2="365.84" y2="327.57" stroke="#3838e4" stroke-width="0.9" />
<line x1="361.24" y1="316.58" x2="365.84" y2="316.58" stroke="#3838e4" stroke-width="0.9" />
<line x1="378.12" y1="337.56" x2="378.12" y2="326.57" stroke="#3838e4" stroke-width="0.9" />
<line x1="375.82" y1="337.56" x2="380.42" y2="337.56" stroke="#3838e4" stroke-width="0.9" />
<line x1="375.82" y1="326.57" x2="380.42" y2="326.57" stroke="#3838e4" stroke-width="0.9" />
<line x1="392.7" y1="359.36" x2="392.7" y2="339.98" stroke="#3838e4" stroke-width="0.9" />
<line x1="390.4" y1="359.36" x2="395" y2="359.36" stroke="#3838e4" stroke-width="0.9" />
<line x1="390.4" y1="339.98" x2="395" y2="339.98" stroke="#3838e4" stroke-width="0.9" />
<line x1="320.61" y1="267.97" x2="320.61" y2="262.59" stroke="#111" stroke-width="1.1" />
<line x1="318.31" y1="267.97" x2="322.91" y2="267.97" stroke="#111" stroke-width="1.1" />
<line x1="318.31" y1="262.59" x2="322.91" y2="262.59" stroke="#111" stroke-width="1.1" />
<line x1="334.65" y1="309.3" x2="334.65" y2="294.75" stroke="#111" stroke-width="1.1" />
<line x1="332.35" y1="309.3" x2="336.95" y2="309.3" stroke="#111" stroke-width="1.1" />
<line x1="332.35" y1="294.75" x2="336.95" y2="294.75" stroke="#111" stroke-width="1.1" />
<line x1="349.23" y1="318.14" x2="349.23" y2="307.15" stroke="#111" stroke-width="1.1" />
<line x1="346.93" y1="318.14" x2="351.53" y2="318.14" stroke="#111" stroke-width="1.1" />
<line x1="346.93" y1="307.15" x2="351.53" y2="307.15" stroke="#111" stroke-width="1.1" />
<line x1="363.54" y1="337.56" x2="363.54" y2="326.57" stroke="#111" stroke-width="1.1" />
<line x1="361.24" y1="337.56" x2="365.84" y2="337.56" stroke="#111" stroke-width="1.1" />
<line x1="361.24" y1="326.57" x2="365.84" y2="326.57" stroke="#111" stroke-width="1.1" />
<line x1="378.12" y1="349.13" x2="378.12" y2="338.14" stroke="#111" stroke-width="1.1" />
<line x1="375.82" y1="349.13" x2="380.42" y2="349.13" stroke="#111" stroke-width="1.1" />
<line x1="375.82" y1="338.14" x2="380.42" y2="338.14" stroke="#111" stroke-width="1.1" />
<line x1="392.7" y1="345.48" x2="392.7" y2="334.49" stroke="#111" stroke-width="1.1" />
<line x1="390.4" y1="345.48" x2="395" y2="345.48" stroke="#111" stroke-width="1.1" />
<line x1="390.4" y1="334.49" x2="395" y2="334.49" stroke="#111" stroke-width="1.1" />
<line x1="406.74" y1="340.95" x2="406.74" y2="331.58" stroke="#111" stroke-width="1.1" />
<line x1="404.44" y1="340.95" x2="409.04" y2="340.95" stroke="#111" stroke-width="1.1" />
<line x1="404.44" y1="331.58" x2="409.04" y2="331.58" stroke="#111" stroke-width="1.1" />
<line x1="436.28" y1="336.95" x2="436.28" y2="327.57" stroke="#111" stroke-width="1.1" />
<line x1="433.98" y1="336.95" x2="438.58" y2="336.95" stroke="#111" stroke-width="1.1" />
<line x1="433.98" y1="327.57" x2="438.58" y2="327.57" stroke="#111" stroke-width="1.1" />
<line x1="444.86" y1="336.69" x2="444.86" y2="328.61" stroke="#111" stroke-width="1.1" />
<line x1="442.56" y1="336.69" x2="447.16" y2="336.69" stroke="#111" stroke-width="1.1" />
<line x1="442.56" y1="328.61" x2="447.16" y2="328.61" stroke="#111" stroke-width="1.1" />
<line x1="452.81" y1="345.27" x2="452.81" y2="332.69" stroke="#111" stroke-width="1.1" />
<line x1="450.51" y1="345.27" x2="455.11" y2="345.27" stroke="#111" stroke-width="1.1" />
<line x1="450.51" y1="332.69" x2="455.11" y2="332.69" stroke="#111" stroke-width="1.1" />
<line x1="461.08" y1="348.64" x2="461.08" y2="340.57" stroke="#111" stroke-width="1.1" />
<line x1="458.78" y1="348.64" x2="463.38" y2="348.64" stroke="#111" stroke-width="1.1" />
<line x1="458.78" y1="340.57" x2="463.38" y2="340.57" stroke="#111" stroke-width="1.1" />
<line x1="469.35" y1="348.64" x2="469.35" y2="340.57" stroke="#111" stroke-width="1.1" />
<line x1="467.05" y1="348.64" x2="471.65" y2="348.64" stroke="#111" stroke-width="1.1" />
<line x1="467.05" y1="340.57" x2="471.65" y2="340.57" stroke="#111" stroke-width="1.1" />
<line x1="477.94" y1="340.07" x2="477.94" y2="331.99" stroke="#111" stroke-width="1.1" />
<line x1="475.64" y1="340.07" x2="480.24" y2="340.07" stroke="#111" stroke-width="1.1" />
<line x1="475.64" y1="331.99" x2="480.24" y2="331.99" stroke="#111" stroke-width="1.1" />
<line x1="486.52" y1="336.95" x2="486.52" y2="326.57" stroke="#111" stroke-width="1.1" />
<line x1="484.22" y1="336.95" x2="488.82" y2="336.95" stroke="#111" stroke-width="1.1" />
<line x1="484.22" y1="326.57" x2="488.82" y2="326.57" stroke="#111" stroke-width="1.1" />
<line x1="494.47" y1="343.15" x2="494.47" y2="335.07" stroke="#111" stroke-width="1.1" />
<line x1="492.17" y1="343.15" x2="496.77" y2="343.15" stroke="#111" stroke-width="1.1" />
<line x1="492.17" y1="335.07" x2="496.77" y2="335.07" stroke="#111" stroke-width="1.1" />
<line x1="452.81" y1="324.67" x2="452.81" y2="319.29" stroke="#1d701d" stroke-width="0.9" />
<line x1="450.61" y1="324.67" x2="455.01" y2="324.67" stroke="#1d701d" stroke-width="0.9" />
<line x1="450.61" y1="319.29" x2="455.01" y2="319.29" stroke="#1d701d" stroke-width="0.9" />
<line x1="461.08" y1="326.08" x2="461.08" y2="317.59" stroke="#1d701d" stroke-width="0.9" />
<line x1="458.88" y1="326.08" x2="463.28" y2="326.08" stroke="#1d701d" stroke-width="0.9" />
<line x1="458.88" y1="317.59" x2="463.28" y2="317.59" stroke="#1d701d" stroke-width="0.9" />
<line x1="469.35" y1="320.49" x2="469.35" y2="308.53" stroke="#1d701d" stroke-width="0.9" />
<line x1="467.15" y1="320.49" x2="471.55" y2="320.49" stroke="#1d701d" stroke-width="0.9" />
<line x1="467.15" y1="308.53" x2="471.55" y2="308.53" stroke="#1d701d" stroke-width="0.9" />
<line x1="477.94" y1="304.83" x2="477.94" y2="301.14" stroke="#1d701d" stroke-width="0.9" />
<line x1="475.74" y1="304.83" x2="480.14" y2="304.83" stroke="#1d701d" stroke-width="0.9" />
<line x1="475.74" y1="301.14" x2="480.14" y2="301.14" stroke="#1d701d" stroke-width="0.9" />
<line x1="486.52" y1="294.38" x2="486.52" y2="288" stroke="#1d701d" stroke-width="0.9" />
<line x1="484.32" y1="294.38" x2="488.72" y2="294.38" stroke="#1d701d" stroke-width="0.9" />
<line x1="484.32" y1="288" x2="488.72" y2="288" stroke="#1d701d" stroke-width="0.9" />
<line x1="494.47" y1="293.88" x2="494.47" y2="283.5" stroke="#1d701d" stroke-width="0.9" />
<line x1="492.27" y1="293.88" x2="496.67" y2="293.88" stroke="#1d701d" stroke-width="0.9" />
<line x1="492.27" y1="283.5" x2="496.67" y2="283.5" stroke="#1d701d" stroke-width="0.9" />
<line x1="404.94" y1="361" x2="408.54" y2="361" stroke="#1414d2" stroke-width="0.8" />
<line x1="406.74" y1="361" x2="406.74" y2="366.2" stroke="#1414d2" stroke-width="0.8" />
<circle cx="406.74" cy="365.6" r="1.2" fill="#1414d2"/>
<polyline points="316.02,243.15 316.6,246.79 317.18,250.32 317.75,253.73 318.33,257.03 318.91,260.28 319.49,263.52 320.07,266.52 320.64,269.03 321.22,271.19 321.8,273.22 322.38,275.12 322.96,276.91 323.53,278.59 324.11,280.17 324.69,281.67 325.27,283.08 325.85,284.42 326.42,285.7 327,286.93 327.58,288.11 328.16,289.25 328.74,290.35 329.31,291.41 329.89,292.43 330.47,293.41 331.05,294.36 331.63,295.27 332.2,296.15 332.78,297 333.36,297.81 333.94,298.59 334.52,299.34 335.09,300.07 335.67,300.78 336.25,301.46 336.83,302.13 337.41,302.78 337.98,303.41 338.56,304.03 339.14,304.63 339.72,305.22 340.3,305.79 340.87,306.36 341.45,306.91 342.03,307.45 342.61,307.98 343.19,308.51 343.76,309.03 344.34,309.54 344.92,310.05 345.5,310.56 346.08,311.06 346.65,311.56 347.23,312.06 347.81,312.56 348.39,313.06 348.97,313.56 349.54,314.07 350.12,314.58 350.7,315.09 351.28,315.6 351.86,316.11 352.43,316.62 353.01,317.13 353.59,317.64 354.17,318.14 354.75,318.64 355.32,319.13 355.9,319.62 356.48,320.1 357.06,320.58 357.64,321.04 358.21,321.5 358.79,321.95 359.37,322.38 359.95,322.81 360.53,323.22 361.1,323.62 361.68,324 362.26,324.37 362.84,324.73 363.42,325.06 363.99,325.39 364.57,325.71 365.15,326.02 365.73,326.33 366.31,326.63 366.88,326.93 367.46,327.23 368.04,327.52 368.62,327.8 369.2,328.07 369.77,328.35 370.35,328.61 370.93,328.87 371.51,329.12 372.09,329.36 372.66,329.6 373.24,329.83 373.82,330.05 374.4,330.27 374.97,330.48 375.55,330.67 376.13,330.86 376.71,331.05 377.29,331.22 377.86,331.39 378.44,331.54 379.02,331.7 379.6,331.85 380.18,331.99 380.75,332.14 381.33,332.28 381.91,332.42 382.49,332.55 383.07,332.69 383.64,332.81 384.22,332.94 384.8,333.06 385.38,333.18 385.96,333.29 386.53,333.4 387.11,333.51 387.69,333.61 388.27,333.71 388.85,333.8 389.42,333.89 390,333.98 390.58,334.06 391.16,334.14 391.74,334.21 392.31,334.28 392.89,334.34 393.47,334.4 394.05,334.46 394.63,334.52 395.2,334.59 395.78,334.65 396.36,334.71 396.94,334.76 397.52,334.82 398.09,334.88 398.67,334.93 399.25,334.98 399.83,335.03 400.41,335.08 400.98,335.12 401.56,335.16 402.14,335.2 402.72,335.23 403.3,335.26 403.87,335.29 404.45,335.31 405.03,335.33 405.61,335.34 406.19,335.35 406.76,335.35 407.34,335.35 407.92,335.35 408.5,335.35 409.08,335.35 409.65,335.35 410.23,335.35 410.81,335.35 411.39,335.35 411.97,335.35 412.54,335.35 413.12,335.35 413.7,335.35 414.28,335.35 414.86,335.35 415.43,335.35 416.01,335.35 416.59,335.35 417.17,335.35 417.75,335.35 418.32,335.35 418.9,335.35 419.48,335.35 420.06,335.35 420.64,335.35 421.21,335.35 421.79,335.35 422.37,335.35 422.95,335.35 423.53,335.35 424.1,335.35 424.68,335.35 425.26,335.35 425.84,335.35 426.42,335.35 426.99,335.35 427.57,335.35 428.15,335.35 428.73,335.35 429.31,335.35 429.88,335.35 430.46,335.35 431.04,335.35" fill="none" stroke="#e00f14" stroke-width="1.4" stroke-linejoin="round"/>
<polyline points="434.37,335.35 445.5,335.35 461.4,335.71 477.3,335.71 482.07,335.35 486.84,335.71 490.81,337.56 494.79,339.15" fill="none" stroke="#e00f14" stroke-width="1.4" stroke-linejoin="round"/>
<rect x="308.86" y="223.4" width="3.8" height="3.8" fill="#1a0008"/>
<circle cx="320.61" cy="275.36" r="2.2" fill="#1414d2"/>
<circle cx="334.65" cy="301.21" r="2.2" fill="#1414d2"/>
<circle cx="349.23" cy="313.21" r="2.2" fill="#1414d2"/>
<circle cx="363.54" cy="322.08" r="2.2" fill="#1414d2"/>
<circle cx="378.12" cy="332.06" r="2.2" fill="#1414d2"/>
<circle cx="392.7" cy="349.13" r="2.2" fill="#1414d2"/>
<rect x="318.76" y="263.53" width="3.7" height="3.7" fill="#000"/>
<rect x="332.8" y="299.36" width="3.7" height="3.7" fill="#000"/>
<rect x="347.38" y="310.8" width="3.7" height="3.7" fill="#000"/>
<rect x="361.69" y="330.21" width="3.7" height="3.7" fill="#000"/>
<rect x="376.27" y="341.79" width="3.7" height="3.7" fill="#000"/>
<rect x="390.85" y="338.13" width="3.7" height="3.7" fill="#000"/>
<rect x="404.89" y="334.22" width="3.7" height="3.7" fill="#000"/>
<rect x="434.43" y="330.21" width="3.7" height="3.7" fill="#000"/>
<rect x="443.01" y="330.84" width="3.7" height="3.7" fill="#000"/>
<rect x="450.96" y="337.3" width="3.7" height="3.7" fill="#000"/>
<rect x="459.23" y="342.79" width="3.7" height="3.7" fill="#000"/>
<rect x="467.5" y="342.79" width="3.7" height="3.7" fill="#000"/>
<rect x="476.09" y="334.22" width="3.7" height="3.7" fill="#000"/>
<rect x="484.67" y="330.21" width="3.7" height="3.7" fill="#000"/>
<rect x="492.62" y="337.3" width="3.7" height="3.7" fill="#000"/>
<rect x="451.41" y="320.68" width="2.8" height="2.8" fill="#1d701d"/>
<rect x="459.68" y="320.68" width="2.8" height="2.8" fill="#1d701d"/>
<rect x="467.95" y="313.59" width="2.8" height="2.8" fill="#1d701d"/>
<rect x="476.54" y="301.64" width="2.8" height="2.8" fill="#1d701d"/>
<rect x="485.12" y="289.83" width="2.8" height="2.8" fill="#1d701d"/>
<rect x="493.07" y="287.59" width="2.8" height="2.8" fill="#1d701d"/>
<line x1="411.87" y1="334.48" x2="417.27" y2="339.88" stroke="#1d701d" stroke-width="1.25" />
<line x1="411.87" y1="339.88" x2="417.27" y2="334.48" stroke="#1d701d" stroke-width="1.25" />
<line x1="458.38" y1="323.87" x2="463.78" y2="329.27" stroke="#1d701d" stroke-width="1.25" />
<line x1="458.38" y1="329.27" x2="463.78" y2="323.87" stroke="#1d701d" stroke-width="1.25" />
<line x1="475.24" y1="289.73" x2="480.64" y2="295.13" stroke="#1d701d" stroke-width="1.25" />
<line x1="475.24" y1="295.13" x2="480.64" y2="289.73" stroke="#1d701d" stroke-width="1.25" />
<line x1="491.77" y1="278.16" x2="497.17" y2="283.56" stroke="#1d701d" stroke-width="1.25" />
<line x1="491.77" y1="283.56" x2="497.17" y2="278.16" stroke="#1d701d" stroke-width="1.25" />
<line x1="306.3" y1="210.8" x2="430.6" y2="210.8" stroke="#454545" stroke-width="1" />
<line x1="434" y1="210.8" x2="516.4" y2="210.8" stroke="#454545" stroke-width="1" />
<line x1="428.9" y1="213.6" x2="432.3" y2="208" stroke="#222" stroke-width="0.9" />
<line x1="432.3" y1="213.6" x2="435.7" y2="208" stroke="#222" stroke-width="0.9" />
<line x1="306.3" y1="366.2" x2="430.6" y2="366.2" stroke="#454545" stroke-width="1" />
<line x1="434" y1="366.2" x2="516.4" y2="366.2" stroke="#454545" stroke-width="1" />
<line x1="428.9" y1="369" x2="432.3" y2="363.4" stroke="#222" stroke-width="0.9" />
<line x1="432.3" y1="369" x2="435.7" y2="363.4" stroke="#222" stroke-width="0.9" />
<line x1="306.3" y1="210.3" x2="306.3" y2="240.5" stroke="#454545" stroke-width="1" />
<line x1="306.3" y1="243.5" x2="306.3" y2="366.7" stroke="#454545" stroke-width="1" />
<line x1="303.7" y1="242.2" x2="308.9" y2="238.8" stroke="#454545" stroke-width="0.8" />
<line x1="303.7" y1="245.2" x2="308.9" y2="241.8" stroke="#454545" stroke-width="0.8" />
<line x1="516.4" y1="210.3" x2="516.4" y2="240.5" stroke="#454545" stroke-width="1" />
<line x1="516.4" y1="243.5" x2="516.4" y2="366.7" stroke="#454545" stroke-width="1" />
<line x1="513.8" y1="242.2" x2="519" y2="238.8" stroke="#454545" stroke-width="0.8" />
<line x1="513.8" y1="245.2" x2="519" y2="241.8" stroke="#454545" stroke-width="0.8" />
<line x1="302.1" y1="366.2" x2="306.3" y2="366.2" stroke="#454545" stroke-width="1" />
<line x1="512.2" y1="366.2" x2="516.4" y2="366.2" stroke="#454545" stroke-width="1" />
<text x="300.7" y="368.9" font-size="7.5" text-anchor="end" fill="#1c1c1c" >1E18</text>
<line x1="304.1" y1="349.13" x2="306.3" y2="349.13" stroke="#454545" stroke-width="0.9" />
<line x1="514.2" y1="349.13" x2="516.4" y2="349.13" stroke="#454545" stroke-width="0.9" />
<line x1="304.1" y1="339.15" x2="306.3" y2="339.15" stroke="#454545" stroke-width="0.9" />
<line x1="514.2" y1="339.15" x2="516.4" y2="339.15" stroke="#454545" stroke-width="0.9" />
<line x1="304.1" y1="332.06" x2="306.3" y2="332.06" stroke="#454545" stroke-width="0.9" />
<line x1="514.2" y1="332.06" x2="516.4" y2="332.06" stroke="#454545" stroke-width="0.9" />
<line x1="304.1" y1="326.57" x2="306.3" y2="326.57" stroke="#454545" stroke-width="0.9" />
<line x1="514.2" y1="326.57" x2="516.4" y2="326.57" stroke="#454545" stroke-width="0.9" />
<line x1="304.1" y1="322.08" x2="306.3" y2="322.08" stroke="#454545" stroke-width="0.9" />
<line x1="514.2" y1="322.08" x2="516.4" y2="322.08" stroke="#454545" stroke-width="0.9" />
<line x1="304.1" y1="318.28" x2="306.3" y2="318.28" stroke="#454545" stroke-width="0.9" />
<line x1="514.2" y1="318.28" x2="516.4" y2="318.28" stroke="#454545" stroke-width="0.9" />
<line x1="304.1" y1="314.99" x2="306.3" y2="314.99" stroke="#454545" stroke-width="0.9" />
<line x1="514.2" y1="314.99" x2="516.4" y2="314.99" stroke="#454545" stroke-width="0.9" />
<line x1="304.1" y1="312.09" x2="306.3" y2="312.09" stroke="#454545" stroke-width="0.9" />
<line x1="514.2" y1="312.09" x2="516.4" y2="312.09" stroke="#454545" stroke-width="0.9" />
<line x1="302.1" y1="309.5" x2="306.3" y2="309.5" stroke="#454545" stroke-width="1" />
<line x1="512.2" y1="309.5" x2="516.4" y2="309.5" stroke="#454545" stroke-width="1" />
<text x="300.7" y="312.2" font-size="7.5" text-anchor="end" fill="#1c1c1c" >1E19</text>
<line x1="304.1" y1="292.43" x2="306.3" y2="292.43" stroke="#454545" stroke-width="0.9" />
<line x1="514.2" y1="292.43" x2="516.4" y2="292.43" stroke="#454545" stroke-width="0.9" />
<line x1="304.1" y1="282.45" x2="306.3" y2="282.45" stroke="#454545" stroke-width="0.9" />
<line x1="514.2" y1="282.45" x2="516.4" y2="282.45" stroke="#454545" stroke-width="0.9" />
<line x1="304.1" y1="275.36" x2="306.3" y2="275.36" stroke="#454545" stroke-width="0.9" />
<line x1="514.2" y1="275.36" x2="516.4" y2="275.36" stroke="#454545" stroke-width="0.9" />
<line x1="304.1" y1="269.87" x2="306.3" y2="269.87" stroke="#454545" stroke-width="0.9" />
<line x1="514.2" y1="269.87" x2="516.4" y2="269.87" stroke="#454545" stroke-width="0.9" />
<line x1="304.1" y1="265.38" x2="306.3" y2="265.38" stroke="#454545" stroke-width="0.9" />
<line x1="514.2" y1="265.38" x2="516.4" y2="265.38" stroke="#454545" stroke-width="0.9" />
<line x1="304.1" y1="261.58" x2="306.3" y2="261.58" stroke="#454545" stroke-width="0.9" />
<line x1="514.2" y1="261.58" x2="516.4" y2="261.58" stroke="#454545" stroke-width="0.9" />
<line x1="304.1" y1="258.29" x2="306.3" y2="258.29" stroke="#454545" stroke-width="0.9" />
<line x1="514.2" y1="258.29" x2="516.4" y2="258.29" stroke="#454545" stroke-width="0.9" />
<line x1="304.1" y1="255.39" x2="306.3" y2="255.39" stroke="#454545" stroke-width="0.9" />
<line x1="514.2" y1="255.39" x2="516.4" y2="255.39" stroke="#454545" stroke-width="0.9" />
<line x1="302.1" y1="252.8" x2="306.3" y2="252.8" stroke="#454545" stroke-width="1" />
<line x1="512.2" y1="252.8" x2="516.4" y2="252.8" stroke="#454545" stroke-width="1" />
<text x="300.7" y="255.5" font-size="7.5" text-anchor="end" fill="#1c1c1c" >1E20</text>
<line x1="302.9" y1="225.2" x2="306.3" y2="225.2" stroke="#454545" stroke-width="1" />
<line x1="513" y1="225.2" x2="516.4" y2="225.2" stroke="#454545" stroke-width="1" />
<text x="300.7" y="227.9" font-size="7.5" text-anchor="end" fill="#1c1c1c" >1E21</text>
<line x1="304.1" y1="220.8" x2="306.3" y2="220.8" stroke="#454545" stroke-width="0.9" />
<line x1="514.2" y1="220.8" x2="516.4" y2="220.8" stroke="#454545" stroke-width="0.9" />
<line x1="304.1" y1="216.5" x2="306.3" y2="216.5" stroke="#454545" stroke-width="0.9" />
<line x1="514.2" y1="216.5" x2="516.4" y2="216.5" stroke="#454545" stroke-width="0.9" />
<line x1="304.1" y1="213.3" x2="306.3" y2="213.3" stroke="#454545" stroke-width="0.9" />
<line x1="514.2" y1="213.3" x2="516.4" y2="213.3" stroke="#454545" stroke-width="0.9" />
<line x1="306.3" y1="362.8" x2="306.3" y2="366.2" stroke="#454545" stroke-width="1" />
<line x1="306.3" y1="210.8" x2="306.3" y2="214.2" stroke="#454545" stroke-width="1" />
<text x="306.3" y="376" font-size="7.6" text-anchor="middle" fill="#1c1c1c" >0</text>
<line x1="319.8" y1="364.4" x2="319.8" y2="366.2" stroke="#454545" stroke-width="1" />
<line x1="319.8" y1="210.8" x2="319.8" y2="212.6" stroke="#454545" stroke-width="1" />
<line x1="333.3" y1="362.8" x2="333.3" y2="366.2" stroke="#454545" stroke-width="1" />
<line x1="333.3" y1="210.8" x2="333.3" y2="214.2" stroke="#454545" stroke-width="1" />
<text x="333.3" y="376" font-size="7.6" text-anchor="middle" fill="#1c1c1c" >1</text>
<line x1="346.8" y1="364.4" x2="346.8" y2="366.2" stroke="#454545" stroke-width="1" />
<line x1="346.8" y1="210.8" x2="346.8" y2="212.6" stroke="#454545" stroke-width="1" />
<line x1="360.3" y1="362.8" x2="360.3" y2="366.2" stroke="#454545" stroke-width="1" />
<line x1="360.3" y1="210.8" x2="360.3" y2="214.2" stroke="#454545" stroke-width="1" />
<text x="360.3" y="376" font-size="7.6" text-anchor="middle" fill="#1c1c1c" >2</text>
<line x1="373.8" y1="364.4" x2="373.8" y2="366.2" stroke="#454545" stroke-width="1" />
<line x1="373.8" y1="210.8" x2="373.8" y2="212.6" stroke="#454545" stroke-width="1" />
<line x1="387.3" y1="362.8" x2="387.3" y2="366.2" stroke="#454545" stroke-width="1" />
<line x1="387.3" y1="210.8" x2="387.3" y2="214.2" stroke="#454545" stroke-width="1" />
<text x="387.3" y="376" font-size="7.6" text-anchor="middle" fill="#1c1c1c" >3</text>
<line x1="400.8" y1="364.4" x2="400.8" y2="366.2" stroke="#454545" stroke-width="1" />
<line x1="400.8" y1="210.8" x2="400.8" y2="212.6" stroke="#454545" stroke-width="1" />
<line x1="414.3" y1="362.8" x2="414.3" y2="366.2" stroke="#454545" stroke-width="1" />
<line x1="414.3" y1="210.8" x2="414.3" y2="214.2" stroke="#454545" stroke-width="1" />
<text x="414.3" y="376" font-size="7.6" text-anchor="middle" fill="#1c1c1c" >4</text>
<line x1="427.8" y1="364.4" x2="427.8" y2="366.2" stroke="#454545" stroke-width="1" />
<line x1="427.8" y1="210.8" x2="427.8" y2="212.6" stroke="#454545" stroke-width="1" />
<line x1="437.55" y1="364.4" x2="437.55" y2="366.2" stroke="#454545" stroke-width="1" />
<line x1="437.55" y1="210.8" x2="437.55" y2="212.6" stroke="#454545" stroke-width="1" />
<line x1="445.5" y1="362.8" x2="445.5" y2="366.2" stroke="#454545" stroke-width="1" />
<line x1="445.5" y1="210.8" x2="445.5" y2="214.2" stroke="#454545" stroke-width="1" />
<text x="445.5" y="376" font-size="7.6" text-anchor="middle" fill="#1c1c1c" >8</text>
<line x1="453.45" y1="364.4" x2="453.45" y2="366.2" stroke="#454545" stroke-width="1" />
<line x1="453.45" y1="210.8" x2="453.45" y2="212.6" stroke="#454545" stroke-width="1" />
<line x1="461.4" y1="362.8" x2="461.4" y2="366.2" stroke="#454545" stroke-width="1" />
<line x1="461.4" y1="210.8" x2="461.4" y2="214.2" stroke="#454545" stroke-width="1" />
<text x="461.4" y="376" font-size="7.6" text-anchor="middle" fill="#1c1c1c" >9</text>
<line x1="469.35" y1="364.4" x2="469.35" y2="366.2" stroke="#454545" stroke-width="1" />
<line x1="469.35" y1="210.8" x2="469.35" y2="212.6" stroke="#454545" stroke-width="1" />
<line x1="477.3" y1="362.8" x2="477.3" y2="366.2" stroke="#454545" stroke-width="1" />
<line x1="477.3" y1="210.8" x2="477.3" y2="214.2" stroke="#454545" stroke-width="1" />
<text x="477.3" y="376" font-size="7.6" text-anchor="middle" fill="#1c1c1c" >10</text>
<line x1="485.25" y1="364.4" x2="485.25" y2="366.2" stroke="#454545" stroke-width="1" />
<line x1="485.25" y1="210.8" x2="485.25" y2="212.6" stroke="#454545" stroke-width="1" />
<line x1="493.2" y1="362.8" x2="493.2" y2="366.2" stroke="#454545" stroke-width="1" />
<line x1="493.2" y1="210.8" x2="493.2" y2="214.2" stroke="#454545" stroke-width="1" />
<text x="493.2" y="376" font-size="7.6" text-anchor="middle" fill="#1c1c1c" >11</text>
<line x1="501.15" y1="364.4" x2="501.15" y2="366.2" stroke="#454545" stroke-width="1" />
<line x1="501.15" y1="210.8" x2="501.15" y2="212.6" stroke="#454545" stroke-width="1" />
<line x1="509.1" y1="362.8" x2="509.1" y2="366.2" stroke="#454545" stroke-width="1" />
<line x1="509.1" y1="210.8" x2="509.1" y2="214.2" stroke="#454545" stroke-width="1" />
<text x="509.1" y="376" font-size="7.6" text-anchor="middle" fill="#1c1c1c" >12</text>
<text x="492.6" y="232.3" font-size="14.2" text-anchor="start" fill="#1c1c1c" >d)</text>
<text x="411.1" y="389.4" font-size="8.8" text-anchor="middle" fill="#1c1c1c" >Z, mm</text>
<text transform="translate(275.7,309.3) rotate(-90)" font-size="8.1" text-anchor="start" fill="#1c1c1c">Density, cm<tspan dx="1.6" dy="-3.6" font-size="5.6">-3</tspan></text>
<text x="453.4" y="269.5" font-size="7.4" text-anchor="start" fill="#1c1c1c" >Obstacle position</text>
<circle cx="346.5" cy="222.4" r="2.1" fill="#1414d2"/>
<text x="356" y="224.8" font-size="6.65" text-anchor="start" fill="#1c1c1c" >Free expansion</text>
<rect x="344.75" y="228.35" width="3.5" height="3.5" fill="#000"/>
<text x="356" y="232.5" font-size="6.65" text-anchor="start" fill="#1c1c1c" >Magnetic field 20 T</text>
<line x1="339.3" y1="238.7" x2="354.8" y2="238.7" stroke="#e00f14" stroke-width="1.3" />
<text x="356" y="241" font-size="6.65" text-anchor="start" fill="#1c1c1c" >Approximation of 20 T case</text>
<rect x="344.95" y="245.65" width="3.1" height="3.1" fill="#1d701d"/>
<text x="356" y="249.6" font-size="6.65" text-anchor="start" fill="#1c1c1c" >Obstacle and magnetic field 20 T</text>
<line x1="343.8" y1="253.4" x2="349.2" y2="258.8" stroke="#1d701d" stroke-width="1.25" />
<line x1="343.8" y1="258.8" x2="349.2" y2="253.4" stroke="#1d701d" stroke-width="1.25" />
<text x="356" y="258.5" font-size="6.65" text-anchor="start" fill="#1c1c1c" >Gorgon simulation (MHD)</text>
</g>
</g>
</svg>
</body></html>
